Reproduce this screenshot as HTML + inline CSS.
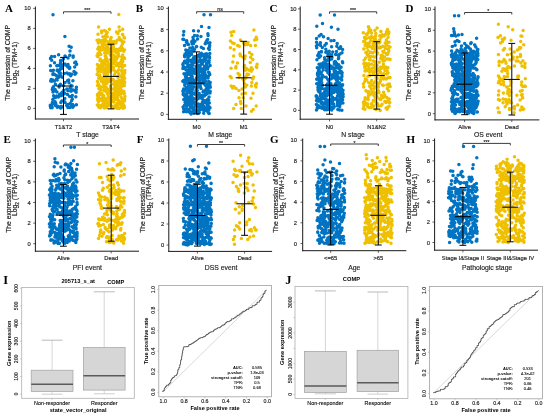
<!DOCTYPE html>
<html><head><meta charset="utf-8"><style>
html,body{margin:0;padding:0;background:#fff;overflow:hidden;}
svg{display:block;filter:blur(0.3px);}
text{font-family:"Liberation Sans",sans-serif;fill:#222;}
.tk{font-size:5.8px;fill:#222;stroke:#222;stroke-width:0.16px;}
.xt{font-size:6.8px;stroke:#222;stroke-width:0.15px;}
.yt{font-size:6.75px;stroke:#222;stroke-width:0.18px;}
.sig{font-size:5.2px;stroke:#222;stroke-width:0.15px;}
.rt{font-size:5.1px;fill:#222;stroke:#222;stroke-width:0.15px;}
.rx{font-size:5.3px;fill:#222;stroke:#222;stroke-width:0.15px;}
.bl{font-size:5.4px;fill:#111;stroke:#111;stroke-width:0.12px;}
.bt{font-size:5.7px;font-weight:bold;fill:#000;}
.bx{font-size:5.65px;font-weight:bold;fill:#000;}
.lg{font-size:4.0px;fill:#111;stroke:#111;stroke-width:0.1px;}
.lgb{font-size:4.0px;font-weight:bold;fill:#000;}
.L{font-family:"Liberation Serif",serif;font-weight:bold;font-size:11px;fill:#000;}
</style></head><body>
<svg width="550" height="417" viewBox="0 0 550 417">
<line x1="35.4" y1="6.5" x2="35.4" y2="119.5" stroke="#1a1a1a" stroke-width="1.0"/>
<line x1="34.9" y1="119" x2="139" y2="119" stroke="#1a1a1a" stroke-width="1.0"/>
<line x1="33.2" y1="108.4" x2="35.4" y2="108.4" stroke="#222" stroke-width="0.7"/>
<text x="30.8" y="110.4" class="tk" text-anchor="end">0</text>
<line x1="33.2" y1="88.4" x2="35.4" y2="88.4" stroke="#222" stroke-width="0.7"/>
<text x="30.8" y="90.4" class="tk" text-anchor="end">2</text>
<line x1="33.2" y1="68.4" x2="35.4" y2="68.4" stroke="#222" stroke-width="0.7"/>
<text x="30.8" y="70.4" class="tk" text-anchor="end">4</text>
<line x1="33.2" y1="48.4" x2="35.4" y2="48.4" stroke="#222" stroke-width="0.7"/>
<text x="30.8" y="50.4" class="tk" text-anchor="end">6</text>
<line x1="33.2" y1="28.4" x2="35.4" y2="28.4" stroke="#222" stroke-width="0.7"/>
<text x="30.8" y="30.4" class="tk" text-anchor="end">8</text>
<line x1="33.2" y1="8.4" x2="35.4" y2="8.4" stroke="#222" stroke-width="0.7"/>
<text x="30.8" y="10.4" class="tk" text-anchor="end">10</text>
<line x1="63.5" y1="119" x2="63.5" y2="121.2" stroke="#222" stroke-width="0.7"/>
<text x="63.5" y="128.5" class="tk" text-anchor="middle">T1&amp;T2</text>
<path d="M66.5 65.6h0M50.4 65.7h0M55.1 89.4h0M73.2 90.0h0M52.1 107.2h0M55.4 84.2h0M67.0 72.9h0M52.7 88.0h0M54.1 90.3h0M54.9 96.6h0M53.6 95.8h0M76.6 64.3h0M70.7 75.8h0M56.8 95.9h0M63.2 64.8h0M55.7 103.2h0M59.7 73.4h0M74.7 67.1h0M51.7 106.3h0M55.4 105.6h0M57.2 70.0h0M75.8 96.7h0M71.2 85.5h0M52.9 74.5h0M74.0 71.5h0M60.3 73.0h0M58.9 72.3h0M51.9 104.7h0M60.0 69.6h0M76.4 87.2h0M60.5 108.1h0M60.2 76.0h0M60.5 95.7h0M51.2 79.6h0M59.7 65.0h0M53.4 86.7h0M52.3 89.4h0M57.3 107.3h0M60.8 67.0h0M69.4 68.6h0M55.5 97.4h0M72.3 98.9h0M56.2 105.6h0M61.8 101.0h0M63.8 94.1h0M71.7 100.4h0M60.6 108.1h0M71.2 89.4h0M68.7 79.9h0M60.9 75.8h0M66.9 89.0h0M52.7 80.0h0M61.7 93.0h0M52.8 99.6h0M54.2 97.5h0M67.6 105.1h0M68.3 74.1h0M60.8 102.6h0M76.3 89.5h0M70.1 87.9h0M50.7 70.6h0M53.0 92.0h0M56.9 91.9h0M64.5 99.3h0M59.7 94.3h0M65.0 82.4h0M64.2 73.5h0M75.0 74.2h0M67.8 67.1h0M72.1 85.9h0M58.4 106.4h0M65.1 102.4h0M76.0 73.1h0M69.6 73.8h0M55.1 101.7h0M63.8 90.3h0M53.4 70.3h0M60.3 75.4h0M67.9 90.7h0M57.1 70.5h0M68.0 64.5h0M58.9 77.2h0M67.5 94.5h0M62.8 66.1h0M64.9 63.9h0M76.1 92.2h0M71.0 91.3h0M63.5 85.7h0M61.4 106.4h0M72.3 95.6h0M52.7 88.5h0M69.8 67.7h0M68.6 107.2h0M71.5 96.6h0M50.7 81.1h0M57.2 80.0h0M71.6 74.2h0M50.4 106.6h0M59.1 86.9h0M64.8 98.4h0M55.7 91.0h0M51.7 81.2h0M56.4 75.4h0M61.5 95.5h0M58.4 97.1h0M72.6 104.5h0M53.0 73.6h0M54.4 80.9h0M50.7 107.7h0M69.0 82.7h0M57.9 65.6h0M59.2 85.4h0M59.5 76.1h0M52.4 102.4h0M52.1 107.7h0M60.4 84.2h0M62.8 65.3h0M59.7 72.6h0M53.0 70.4h0M67.9 107.4h0M62.2 92.2h0M73.7 106.0h0M69.7 96.5h0M55.0 104.0h0M56.5 79.1h0M62.1 106.9h0M58.0 77.6h0M75.3 91.0h0M61.0 108.1h0M54.8 89.7h0M61.7 68.6h0M69.9 107.4h0M66.7 105.6h0M71.1 104.5h0M64.7 93.2h0M75.4 91.0h0M60.5 69.1h0M76.4 104.7h0M67.7 80.4h0M70.3 103.3h0M55.8 104.3h0M72.9 80.7h0M50.3 105.2h0M69.6 67.2h0M62.3 77.2h0M72.8 107.3h0M68.0 104.5h0M56.8 65.8h0M54.5 74.4h0M60.4 107.7h0M51.7 60.3h0M51.6 56.5h0M54.6 56.4h0M73.1 57.3h0M50.5 58.3h0M65.0 56.1h0M69.1 46.2h0M68.0 57.9h0M70.0 50.9h0M74.7 62.8h0M63.4 58.9h0M65.3 56.3h0M69.8 55.3h0M60.6 60.6h0M50.6 58.7h0M71.2 47.2h0M58.6 54.8h0M73.2 55.9h0M60.5 62.7h0M54.5 62.8h0M61.3 61.0h0M75.7 61.9h0M53.0 14.7h0M64.9 36.4h0" stroke="#0073C2" stroke-width="3.5" stroke-linecap="round" fill="none"/>
<line x1="111" y1="119" x2="111" y2="121.2" stroke="#222" stroke-width="0.7"/>
<text x="111" y="128.5" class="tk" text-anchor="middle">T3&amp;T4</text>
<path d="M107.7 89.9h0M107.0 102.7h0M117.9 63.2h0M107.9 105.0h0M106.4 67.6h0M112.5 99.1h0M102.2 66.9h0M100.4 69.1h0M120.5 66.0h0M108.3 96.8h0M123.0 76.7h0M106.7 60.3h0M107.2 51.1h0M124.7 65.4h0M104.9 101.9h0M97.9 53.6h0M97.1 55.7h0M119.9 83.2h0M101.0 71.6h0M101.3 81.2h0M104.1 70.3h0M118.2 77.5h0M106.3 87.4h0M97.6 95.0h0M99.1 106.0h0M113.6 80.1h0M97.7 56.6h0M103.6 48.0h0M100.7 60.9h0M102.9 96.2h0M117.0 97.2h0M123.0 101.4h0M103.9 105.1h0M108.3 80.5h0M113.9 69.9h0M100.8 50.3h0M105.4 72.8h0M117.9 77.0h0M108.6 94.3h0M106.7 74.0h0M112.8 107.2h0M110.1 59.8h0M121.3 107.2h0M115.9 105.1h0M110.0 104.8h0M108.5 80.8h0M101.1 105.4h0M116.9 85.7h0M104.3 108.0h0M97.5 95.4h0M101.0 89.7h0M114.8 90.7h0M109.0 48.8h0M106.8 107.6h0M114.5 60.6h0M98.6 96.9h0M102.7 66.9h0M100.8 54.6h0M98.3 105.1h0M106.1 70.3h0M115.2 92.6h0M123.9 84.5h0M124.5 58.5h0M97.1 74.5h0M120.5 83.2h0M123.7 70.9h0M106.0 105.7h0M118.9 73.7h0M111.6 96.5h0M104.2 90.5h0M116.9 108.2h0M119.2 66.8h0M109.8 92.4h0M105.8 57.7h0M108.3 48.4h0M120.4 93.2h0M110.4 86.1h0M109.5 103.0h0M117.4 71.9h0M116.3 65.4h0M124.3 93.4h0M115.7 84.2h0M119.6 48.8h0M120.5 62.6h0M116.2 91.8h0M114.9 82.2h0M98.1 68.0h0M106.2 98.9h0M98.3 66.4h0M108.9 51.7h0M118.4 53.7h0M111.9 96.3h0M115.3 57.0h0M114.4 107.5h0M101.9 63.3h0M123.9 91.6h0M107.4 93.7h0M107.7 62.2h0M102.9 105.6h0M98.8 78.2h0M112.2 93.3h0M120.9 86.4h0M110.0 79.0h0M100.3 58.9h0M122.0 90.8h0M103.7 87.0h0M113.4 62.9h0M100.5 107.7h0M111.0 49.1h0M105.2 98.9h0M115.2 71.4h0M97.9 48.7h0M98.8 93.2h0M97.4 81.4h0M119.0 104.3h0M100.1 86.2h0M124.7 99.1h0M102.5 105.9h0M101.9 93.3h0M106.7 82.1h0M120.7 50.6h0M107.5 68.4h0M105.7 50.1h0M97.6 98.6h0M105.2 98.5h0M107.5 89.4h0M105.3 80.1h0M115.3 82.4h0M111.4 62.9h0M98.9 107.2h0M114.3 97.1h0M121.1 97.2h0M97.3 104.9h0M118.1 85.8h0M118.3 94.9h0M115.6 107.1h0M97.9 56.5h0M105.2 55.9h0M100.7 106.3h0M109.8 81.2h0M105.4 53.0h0M102.0 49.8h0M124.5 81.8h0M121.6 64.4h0M104.3 77.9h0M113.2 89.1h0M98.5 101.8h0M119.6 93.7h0M118.6 100.9h0M102.6 65.8h0M116.4 84.1h0M108.3 71.0h0M112.1 51.4h0M122.3 67.5h0M106.2 89.2h0M113.6 63.7h0M99.0 69.2h0M114.2 49.3h0M124.3 100.3h0M99.7 51.5h0M100.9 87.1h0M123.9 93.3h0M99.5 106.5h0M103.3 60.7h0M97.9 55.9h0M97.5 94.6h0M124.4 85.6h0M120.3 88.2h0M114.1 63.1h0M118.1 54.4h0M121.4 60.0h0M114.1 106.2h0M102.9 100.4h0M103.0 99.5h0M122.9 85.8h0M103.8 100.3h0M111.8 60.0h0M121.6 80.2h0M107.6 65.5h0M118.2 89.1h0M115.0 95.9h0M118.5 70.1h0M108.2 66.1h0M98.2 53.8h0M99.5 92.6h0M116.0 52.8h0M101.5 94.6h0M122.4 48.5h0M119.4 76.4h0M98.7 47.1h0M110.3 69.4h0M124.5 107.6h0M102.2 104.8h0M114.0 97.8h0M112.7 95.8h0M114.1 49.5h0M107.9 93.2h0M106.8 83.6h0M104.3 88.3h0M114.6 89.4h0M101.8 70.0h0M113.8 102.0h0M102.9 46.6h0M124.9 96.2h0M105.1 107.1h0M112.8 106.9h0M110.7 105.8h0M116.8 81.2h0M118.3 92.4h0M100.1 79.0h0M109.9 80.3h0M116.4 51.1h0M121.9 102.6h0M114.7 57.0h0M121.6 92.3h0M111.2 105.7h0M105.9 56.3h0M103.2 61.8h0M122.0 57.3h0M108.0 81.0h0M124.1 105.8h0M117.9 108.1h0M104.6 100.9h0M113.6 55.6h0M123.2 58.9h0M117.2 106.1h0M122.0 64.5h0M115.3 91.0h0M122.9 85.4h0M99.4 76.3h0M122.7 56.5h0M117.2 103.2h0M115.5 87.1h0M107.1 105.6h0M113.5 59.3h0M123.1 108.3h0M104.7 52.9h0M123.7 51.2h0M117.7 76.2h0M99.2 87.6h0M121.4 70.5h0M107.3 69.8h0M121.5 76.5h0M104.4 73.0h0M116.3 105.3h0M124.5 49.9h0M109.6 105.6h0M114.4 74.8h0M117.0 58.1h0M105.4 90.5h0M112.9 48.1h0M102.6 81.4h0M108.8 91.2h0M110.7 71.0h0M109.3 98.8h0M103.6 80.1h0M105.1 101.4h0M114.8 95.3h0M117.4 81.7h0M115.7 99.4h0M122.1 78.7h0M113.8 106.5h0M104.0 85.6h0M105.9 65.5h0M122.0 98.4h0M117.4 52.8h0M112.4 48.4h0M109.9 88.9h0M105.7 58.8h0M104.1 69.0h0M124.6 78.3h0M111.2 65.3h0M115.9 72.0h0M112.2 95.8h0M106.6 58.5h0M118.7 94.8h0M110.5 104.6h0M116.7 56.7h0M121.6 104.9h0M114.9 92.4h0M97.5 85.6h0M105.3 49.7h0M104.0 104.3h0M98.2 66.5h0M117.4 99.4h0M120.1 102.4h0M115.1 61.8h0M100.0 60.6h0M112.8 79.3h0M109.1 101.6h0M122.8 61.8h0M122.1 101.5h0M118.1 53.1h0M122.2 71.9h0M103.7 95.7h0M98.3 67.3h0M122.1 90.9h0M109.3 66.9h0M123.6 77.6h0M105.0 71.5h0M111.5 80.6h0M113.4 67.6h0M103.0 101.5h0M101.9 70.0h0M118.6 50.5h0M104.5 75.3h0M108.1 102.1h0M103.9 105.3h0M118.8 49.7h0M106.5 77.7h0M124.7 70.6h0M105.8 83.9h0M122.6 55.0h0M121.9 83.7h0M119.7 89.2h0M99.9 47.6h0M98.0 71.7h0M104.8 76.6h0M108.5 66.4h0M98.9 88.7h0M99.7 47.2h0M117.4 97.7h0M113.2 68.1h0M108.0 52.9h0M106.7 66.2h0M103.5 98.4h0M118.9 56.0h0M124.7 73.1h0M111.0 89.2h0M119.0 92.3h0M121.2 81.8h0M100.3 94.3h0M109.7 69.4h0M98.3 84.1h0M109.6 69.4h0M116.8 105.0h0M114.7 96.9h0M118.3 64.7h0M119.1 100.7h0M110.5 55.3h0M117.2 92.9h0M113.0 57.0h0M123.2 82.6h0M122.7 74.5h0M113.5 46.8h0M113.8 95.4h0M103.3 83.6h0M109.6 99.3h0M106.4 47.2h0M113.4 96.1h0M121.1 90.0h0M119.7 108.0h0M108.0 101.7h0M124.6 82.4h0M99.1 76.8h0M115.7 95.3h0M121.0 93.9h0M115.6 89.8h0M119.6 75.7h0M103.4 82.3h0M100.2 50.1h0M109.4 98.8h0M101.5 100.2h0M113.3 51.1h0M119.1 80.4h0M101.2 65.0h0M119.0 65.4h0M108.9 71.8h0M99.9 65.8h0M110.6 98.3h0M97.4 68.9h0M124.4 58.1h0M99.9 67.1h0M111.4 101.5h0M99.0 86.5h0M120.6 102.8h0M99.7 75.1h0M104.5 69.0h0M102.0 80.1h0M116.3 59.6h0M103.9 49.8h0M119.6 49.9h0M121.3 86.6h0M107.9 50.8h0M113.3 83.9h0M112.7 99.0h0M120.7 80.4h0M124.4 100.9h0M98.0 100.2h0M101.6 77.8h0M97.8 100.2h0M97.4 64.6h0M108.5 103.0h0M97.8 49.0h0M121.3 46.6h0M110.6 88.0h0M104.0 73.2h0M104.0 85.9h0M110.9 67.8h0M109.3 64.5h0M100.5 98.6h0M112.1 58.4h0M107.3 74.4h0M106.1 91.4h0M114.9 86.2h0M105.0 63.4h0M101.4 99.1h0M111.7 53.9h0M123.0 104.1h0M122.6 79.5h0M104.8 82.7h0M123.9 75.4h0M116.6 49.3h0M105.8 60.7h0M119.0 108.4h0M105.8 76.3h0M110.0 100.2h0M108.3 81.7h0M107.7 76.7h0M102.0 63.6h0M104.5 30.4h0M106.1 45.1h0M105.7 35.6h0M122.5 42.3h0M115.0 42.0h0M102.6 40.6h0M121.0 40.5h0M122.5 34.5h0M116.0 42.9h0M105.9 40.5h0M110.1 41.0h0M124.5 37.9h0M110.6 39.0h0M107.8 45.9h0M101.7 32.8h0M119.2 37.6h0M102.3 44.7h0M121.2 40.0h0M105.7 31.3h0M116.4 31.9h0M113.9 41.4h0M103.9 43.6h0M122.7 29.2h0M105.6 35.7h0M124.0 37.2h0M111.0 41.3h0M107.2 32.5h0M122.3 44.2h0M106.8 33.5h0M98.0 34.2h0M119.5 39.6h0M123.8 41.9h0M102.9 36.7h0M122.1 41.6h0M105.1 41.2h0M109.0 43.2h0M122.7 34.6h0M110.8 44.6h0M98.9 40.0h0M101.2 40.8h0M119.1 27.0h0M112.8 45.2h0M105.0 38.9h0M101.9 43.8h0M109.4 29.3h0M107.3 45.0h0M119.6 30.8h0M111.2 37.5h0M103.4 44.2h0M100.6 41.2h0M98.2 43.1h0M97.1 40.3h0M117.9 33.6h0M117.1 40.3h0M98.6 27.1h0M101.5 30.9h0M113.0 43.9h0M111.9 44.9h0M107.3 36.8h0M108.1 42.0h0M118.8 14.4h0" stroke="#EFC000" stroke-width="3.5" stroke-linecap="round" fill="none"/>
<g stroke="#000" stroke-width="1.0"><line x1="63.5" y1="57.4" x2="63.5" y2="114.4"/><line x1="60.1" y1="57.4" x2="66.9" y2="57.4"/><line x1="60.1" y1="114.4" x2="66.9" y2="114.4"/><line x1="55.5" y1="86.0" x2="71.5" y2="86.0"/></g>
<g stroke="#000" stroke-width="1.0"><line x1="111" y1="44.2" x2="111" y2="108.9"/><line x1="107.6" y1="44.2" x2="114.4" y2="44.2"/><line x1="107.6" y1="108.9" x2="114.4" y2="108.9"/><line x1="103.0" y1="76.4" x2="119.0" y2="76.4"/></g>
<path d="M63.5 13.8V11.8H111V13.8" fill="none" stroke="#333" stroke-width="0.95"/>
<text x="87.2" y="12.3" class="sig" text-anchor="middle">***</text>
<text x="87.5" y="137.2" class="xt" text-anchor="middle">T stage</text>
<text transform="translate(10.3,62.9) rotate(-90) scale(1,0.95)" class="yt" text-anchor="middle">The expression of COMP</text>
<text transform="translate(17.2,62.9) rotate(-90)" class="yt" text-anchor="middle">Log<tspan font-size="4.7" dy="1.7">2</tspan><tspan dy="-1.7"> (TPM+1)</tspan></text>
<text x="5.0" y="11.7" class="L">A</text>
<line x1="168.4" y1="6.5" x2="168.4" y2="119.8" stroke="#1a1a1a" stroke-width="1.0"/>
<line x1="167.9" y1="119.3" x2="272" y2="119.3" stroke="#1a1a1a" stroke-width="1.0"/>
<line x1="166.2" y1="114.4" x2="168.4" y2="114.4" stroke="#222" stroke-width="0.7"/>
<text x="163.8" y="116.4" class="tk" text-anchor="end">0</text>
<line x1="166.2" y1="93.2" x2="168.4" y2="93.2" stroke="#222" stroke-width="0.7"/>
<text x="163.8" y="95.2" class="tk" text-anchor="end">2</text>
<line x1="166.2" y1="72.0" x2="168.4" y2="72.0" stroke="#222" stroke-width="0.7"/>
<text x="163.8" y="74.0" class="tk" text-anchor="end">4</text>
<line x1="166.2" y1="50.8" x2="168.4" y2="50.8" stroke="#222" stroke-width="0.7"/>
<text x="163.8" y="52.8" class="tk" text-anchor="end">6</text>
<line x1="166.2" y1="29.6" x2="168.4" y2="29.6" stroke="#222" stroke-width="0.7"/>
<text x="163.8" y="31.6" class="tk" text-anchor="end">8</text>
<line x1="166.2" y1="8.4" x2="168.4" y2="8.4" stroke="#222" stroke-width="0.7"/>
<text x="163.8" y="10.4" class="tk" text-anchor="end">10</text>
<line x1="196.6" y1="119.3" x2="196.6" y2="121.5" stroke="#222" stroke-width="0.7"/>
<text x="196.6" y="128.5" class="tk" text-anchor="middle">M0</text>
<path d="M188.0 99.8h0M189.9 78.6h0M196.5 87.8h0M201.0 104.6h0M203.6 107.4h0M202.8 82.6h0M192.2 78.3h0M199.3 55.6h0M209.6 74.5h0M202.3 96.4h0M188.8 54.6h0M186.7 95.1h0M202.3 78.4h0M206.6 66.9h0M193.6 70.9h0M186.0 108.8h0M197.6 57.1h0M197.4 75.7h0M205.7 68.8h0M185.8 101.0h0M209.6 74.0h0M202.4 64.0h0M185.1 67.8h0M205.9 108.1h0M196.0 90.2h0M202.6 105.4h0M196.8 96.4h0M186.5 97.5h0M207.6 89.8h0M187.2 102.3h0M192.6 68.5h0M197.1 79.5h0M193.1 101.7h0M198.4 104.0h0M208.5 76.1h0M186.8 54.7h0M199.2 65.8h0M187.9 91.7h0M202.3 102.5h0M200.4 61.6h0M191.3 96.2h0M191.3 62.2h0M191.9 70.9h0M199.1 80.9h0M188.0 111.2h0M209.9 91.8h0M195.3 73.2h0M184.1 82.2h0M203.6 102.2h0M209.0 106.7h0M208.6 81.4h0M189.8 90.2h0M188.9 82.0h0M201.0 68.8h0M209.4 91.0h0M184.1 90.2h0M210.0 93.0h0M183.7 108.7h0M209.6 57.8h0M192.5 68.7h0M194.0 62.6h0M201.1 64.4h0M196.8 98.8h0M197.8 93.3h0M187.2 79.3h0M192.2 76.4h0M198.9 108.0h0M205.6 90.4h0M186.8 109.0h0M193.7 82.9h0M191.9 73.5h0M192.3 102.3h0M183.8 99.4h0M199.5 97.2h0M192.5 100.6h0M184.7 56.8h0M187.0 88.9h0M191.5 60.0h0M195.7 105.6h0M204.6 60.2h0M202.7 78.2h0M184.1 67.2h0M182.8 81.3h0M207.4 110.4h0M187.5 62.3h0M203.9 73.3h0M198.5 98.1h0M203.9 95.4h0M188.3 67.3h0M197.4 66.2h0M201.5 104.6h0M203.1 60.7h0M205.7 55.1h0M207.2 93.5h0M208.5 72.2h0M186.4 73.6h0M190.0 72.4h0M190.6 79.8h0M195.5 94.5h0M206.4 76.6h0M209.9 84.9h0M192.0 81.4h0M205.5 75.1h0M207.4 90.4h0M196.4 70.2h0M185.1 61.1h0M201.2 55.2h0M199.2 107.3h0M192.3 89.7h0M207.4 90.9h0M197.5 104.5h0M184.0 73.8h0M208.8 113.6h0M206.9 87.7h0M185.0 79.8h0M194.1 59.9h0M189.6 81.0h0M191.8 76.5h0M193.6 60.1h0M186.4 76.0h0M206.6 102.1h0M201.5 70.6h0M190.0 86.7h0M192.5 73.3h0M188.8 74.3h0M190.1 71.5h0M193.2 93.7h0M188.0 57.7h0M190.1 105.3h0M193.9 62.0h0M189.6 99.9h0M195.8 102.2h0M207.8 84.6h0M189.4 101.5h0M208.7 85.9h0M188.8 65.1h0M190.7 83.7h0M195.5 79.9h0M205.2 83.6h0M206.1 58.5h0M203.4 73.6h0M186.7 106.0h0M188.6 65.5h0M188.7 82.4h0M193.3 83.1h0M182.9 68.5h0M193.2 101.3h0M195.8 84.1h0M187.5 66.6h0M195.0 69.3h0M203.3 100.3h0M201.3 53.3h0M198.9 71.9h0M207.3 100.2h0M184.0 89.9h0M200.1 86.0h0M196.3 56.5h0M209.3 56.4h0M195.2 56.7h0M204.2 69.7h0M194.1 86.9h0M191.1 75.8h0M199.2 105.0h0M185.5 76.7h0M196.9 63.0h0M207.7 99.3h0M209.8 74.4h0M187.8 99.4h0M184.9 98.5h0M196.4 78.0h0M200.8 71.3h0M206.0 94.5h0M197.0 99.5h0M194.7 69.5h0M186.9 93.2h0M184.5 55.5h0M206.4 110.0h0M204.2 83.9h0M204.5 75.4h0M193.4 110.1h0M202.3 55.5h0M191.9 85.5h0M205.1 78.3h0M186.9 81.5h0M200.9 83.3h0M192.2 103.4h0M190.4 106.8h0M186.0 70.1h0M197.8 107.1h0M191.2 65.6h0M184.9 110.9h0M196.0 66.3h0M185.5 102.6h0M197.4 66.0h0M195.2 81.8h0M202.0 54.3h0M184.8 109.2h0M200.9 77.8h0M203.3 75.8h0M191.9 96.3h0M196.9 98.1h0M201.1 98.0h0M184.5 105.3h0M204.9 70.5h0M205.8 93.4h0M194.4 59.4h0M187.5 104.8h0M198.1 79.1h0M207.9 78.0h0M201.2 64.3h0M198.7 74.7h0M205.1 110.4h0M192.7 107.2h0M210.2 91.6h0M191.6 86.7h0M186.4 111.6h0M203.5 61.6h0M201.0 88.5h0M196.8 68.8h0M184.1 90.8h0M185.6 90.1h0M208.0 77.9h0M195.4 59.0h0M196.1 111.2h0M191.7 111.9h0M192.7 65.0h0M202.0 79.5h0M182.9 64.5h0M199.7 95.8h0M194.2 112.0h0M183.2 65.9h0M201.7 106.3h0M203.3 70.7h0M189.4 112.1h0M187.8 71.0h0M185.1 102.5h0M198.6 98.2h0M197.8 111.4h0M204.2 58.5h0M189.2 97.1h0M183.1 107.1h0M185.1 98.2h0M208.4 61.2h0M191.9 91.3h0M191.5 54.2h0M208.7 82.1h0M210.0 107.7h0M199.2 110.7h0M194.0 107.4h0M184.3 68.1h0M197.2 90.4h0M191.9 89.8h0M192.0 66.0h0M183.4 94.4h0M196.7 100.0h0M194.1 56.8h0M189.1 110.2h0M195.9 60.8h0M192.6 92.9h0M187.1 61.3h0M210.0 82.6h0M192.4 103.3h0M202.4 98.9h0M203.0 91.9h0M197.3 75.7h0M184.2 110.3h0M185.5 103.1h0M189.5 84.9h0M200.1 65.9h0M207.9 112.0h0M210.2 82.6h0M187.8 59.2h0M199.3 112.6h0M198.3 110.4h0M209.1 62.5h0M191.6 68.5h0M204.7 66.2h0M199.6 54.6h0M196.5 61.9h0M187.3 78.3h0M192.2 88.0h0M203.5 102.4h0M186.5 74.6h0M188.8 101.1h0M197.4 64.9h0M183.7 63.1h0M192.1 77.2h0M189.0 60.3h0M203.4 72.2h0M190.3 68.6h0M197.9 55.5h0M199.6 81.8h0M208.7 100.3h0M205.8 109.1h0M185.7 96.8h0M206.2 88.8h0M190.1 112.8h0M209.8 53.4h0M190.7 88.1h0M201.1 106.9h0M184.7 74.2h0M190.1 86.0h0M206.8 64.5h0M184.4 94.0h0M202.5 104.5h0M186.4 111.8h0M188.9 104.3h0M186.9 103.3h0M192.4 88.5h0M205.4 81.1h0M195.8 83.8h0M202.1 109.4h0M202.3 73.4h0M187.7 70.5h0M209.2 113.5h0M209.0 97.0h0M191.4 84.5h0M195.7 109.9h0M195.2 104.5h0M209.0 72.4h0M209.1 60.5h0M203.7 113.3h0M194.6 73.3h0M186.6 83.1h0M205.7 77.7h0M206.6 64.1h0M208.2 108.1h0M183.2 63.5h0M206.1 103.1h0M199.7 61.5h0M186.0 111.3h0M197.5 87.6h0M194.8 103.2h0M205.3 60.4h0M193.6 57.7h0M206.3 69.0h0M207.7 56.3h0M194.1 98.7h0M200.7 83.2h0M199.4 95.6h0M192.2 83.5h0M190.5 61.1h0M204.9 54.2h0M183.3 94.8h0M201.9 63.0h0M203.8 74.5h0M200.2 85.0h0M194.1 109.8h0M200.1 57.6h0M198.8 105.9h0M197.5 83.9h0M209.0 81.7h0M197.5 72.6h0M202.9 77.3h0M187.9 109.8h0M202.4 74.8h0M207.9 88.9h0M186.3 77.5h0M186.3 98.0h0M188.3 73.7h0M203.4 106.3h0M207.8 105.3h0M202.3 96.2h0M192.3 98.0h0M199.4 75.3h0M201.4 70.0h0M199.0 78.5h0M192.2 94.3h0M190.2 93.3h0M206.9 107.2h0M190.9 90.7h0M203.0 110.0h0M208.1 67.2h0M199.5 86.0h0M203.1 108.4h0M202.3 60.5h0M184.4 95.4h0M210.1 65.6h0M189.3 111.0h0M201.1 55.6h0M188.0 66.5h0M188.8 60.8h0M204.3 57.0h0M190.4 99.7h0M191.1 114.0h0M186.9 88.9h0M190.0 65.5h0M199.9 60.2h0M191.5 104.9h0M192.8 98.8h0M189.4 102.7h0M198.4 67.6h0M185.8 89.8h0M185.8 78.9h0M196.1 57.7h0M186.2 87.4h0M193.7 69.8h0M208.8 110.0h0M202.5 104.1h0M203.5 91.0h0M205.4 81.8h0M192.5 93.4h0M192.2 108.2h0M196.1 70.9h0M189.5 68.2h0M193.5 83.0h0M198.7 74.6h0M193.3 83.5h0M194.7 93.1h0M188.5 85.2h0M207.8 110.7h0M194.0 112.0h0M210.3 87.2h0M200.3 79.3h0M193.9 112.9h0M203.1 69.0h0M206.6 63.6h0M186.1 79.4h0M201.9 54.0h0M194.2 107.1h0M207.0 101.7h0M206.5 53.7h0M184.7 85.2h0M205.3 85.3h0M191.7 96.4h0M202.1 95.5h0M183.6 89.0h0M197.5 60.7h0M192.8 79.8h0M195.8 58.5h0M182.9 90.9h0M194.8 57.3h0M204.3 95.9h0M188.3 88.4h0M204.8 73.1h0M183.6 111.8h0M193.6 62.2h0M190.3 54.3h0M195.2 70.0h0M209.3 86.9h0M183.8 80.3h0M204.4 67.4h0M205.6 100.8h0M190.2 108.0h0M197.5 113.4h0M203.6 106.0h0M191.1 95.9h0M199.2 93.6h0M209.3 102.9h0M207.3 90.3h0M183.2 93.8h0M186.6 63.2h0M207.7 68.7h0M203.4 101.0h0M199.9 79.7h0M184.9 61.8h0M204.0 79.6h0M207.2 104.9h0M184.6 61.3h0M203.2 75.7h0M202.1 74.6h0M204.7 110.6h0M193.7 108.0h0M198.3 69.1h0M205.5 58.7h0M200.3 86.8h0M189.5 55.8h0M185.1 54.1h0M199.0 109.2h0M199.3 84.4h0M207.6 39.6h0M186.6 52.3h0M191.7 41.9h0M186.9 43.0h0M192.7 47.4h0M188.2 51.2h0M195.0 41.3h0M188.7 52.3h0M189.9 48.0h0M188.1 52.6h0M208.5 48.5h0M194.4 49.4h0M207.3 42.8h0M193.3 41.3h0M186.7 40.7h0M196.4 46.8h0M193.2 39.6h0M186.4 41.9h0M188.4 44.5h0M197.6 38.9h0M198.4 30.9h0M184.5 45.5h0M183.8 31.6h0M209.9 42.7h0M201.3 47.2h0M209.7 45.6h0M206.0 42.0h0M192.3 48.3h0M207.9 33.8h0M209.3 47.2h0M187.1 42.7h0M200.9 36.4h0M193.0 37.4h0M191.9 41.6h0M206.8 40.6h0M183.7 39.5h0M193.6 43.5h0M196.6 46.4h0M183.4 34.9h0M193.8 50.7h0M191.2 51.2h0M203.4 48.4h0M209.3 49.6h0M193.6 30.7h0M188.0 44.6h0M208.1 35.4h0M192.1 44.1h0M185.8 49.9h0M197.3 35.8h0M194.5 35.5h0M192.5 51.2h0M182.9 39.2h0M205.2 43.8h0M188.0 50.4h0M192.2 48.0h0M204.0 14.8h0M210.5 14.8h0M201.5 26.4h0M209.0 27.5h0" stroke="#0073C2" stroke-width="3.5" stroke-linecap="round" fill="none"/>
<line x1="243.7" y1="119.3" x2="243.7" y2="121.5" stroke="#222" stroke-width="0.7"/>
<text x="243.7" y="128.5" class="tk" text-anchor="middle">M1</text>
<path d="M230.2 76.5h0M233.7 108.4h0M233.9 86.5h0M240.5 101.5h0M247.0 74.0h0M252.8 79.0h0M233.6 55.9h0M245.3 87.0h0M237.6 45.5h0M252.5 69.2h0M247.5 44.4h0M236.0 104.5h0M231.3 77.8h0M243.5 43.3h0M239.0 97.8h0M256.3 66.8h0M251.2 71.2h0M250.6 45.4h0M257.1 64.3h0M251.0 98.3h0M250.6 57.2h0M243.8 80.3h0M240.7 101.7h0M232.6 43.0h0M231.2 86.0h0M251.5 111.3h0M248.5 74.5h0M242.1 93.9h0M236.0 88.6h0M251.8 82.5h0M234.1 43.5h0M255.5 85.1h0M251.9 54.5h0M246.7 85.3h0M239.3 46.3h0M241.3 108.6h0M231.1 68.3h0M253.6 76.9h0M250.3 62.5h0M232.8 62.1h0M244.5 66.6h0M239.1 77.4h0M244.4 67.4h0M246.4 68.6h0M243.1 97.7h0M251.4 86.0h0M246.0 106.1h0M245.7 78.2h0M248.8 70.1h0M250.8 70.7h0M240.9 103.5h0M238.9 90.5h0M246.2 76.5h0M252.8 59.5h0M253.0 93.3h0M256.5 83.6h0M240.0 54.1h0M256.8 67.6h0M245.6 93.2h0M230.4 47.7h0M238.1 73.5h0M242.1 89.1h0M245.4 70.2h0M251.3 67.7h0M256.2 106.0h0M248.0 42.4h0M232.6 88.1h0M243.1 57.2h0M240.4 55.8h0M245.2 44.7h0M244.7 42.9h0M239.5 74.7h0M230.4 41.1h0M249.5 52.5h0M244.7 58.7h0M255.4 45.4h0M255.7 86.2h0M253.2 109.5h0M237.4 63.0h0M236.0 66.4h0M235.7 67.8h0M244.4 83.6h0M256.0 86.9h0M242.7 78.9h0M234.0 49.5h0M245.3 56.1h0M244.5 65.4h0M235.9 68.0h0M240.4 40.1h0M231.7 35.6h0M253.9 30.0h0M256.2 37.2h0M231.0 32.3h0M254.6 40.1h0M233.7 31.6h0M256.7 39.3h0" stroke="#EFC000" stroke-width="3.5" stroke-linecap="round" fill="none"/>
<g stroke="#000" stroke-width="1.0"><line x1="196.6" y1="51.9" x2="196.6" y2="113.9"/><line x1="193.2" y1="51.9" x2="200.0" y2="51.9"/><line x1="193.2" y1="113.9" x2="200.0" y2="113.9"/><line x1="188.6" y1="83.1" x2="204.6" y2="83.1"/></g>
<g stroke="#000" stroke-width="1.0"><line x1="243.7" y1="41.3" x2="243.7" y2="114.1"/><line x1="240.3" y1="41.3" x2="247.1" y2="41.3"/><line x1="240.3" y1="114.1" x2="247.1" y2="114.1"/><line x1="235.7" y1="77.8" x2="251.7" y2="77.8"/></g>
<path d="M196.6 13.7V11.7H243.7V13.7" fill="none" stroke="#333" stroke-width="0.95"/>
<text x="220.1" y="10.8" class="sig" text-anchor="middle">ns</text>
<text x="220.3" y="137.2" class="xt" text-anchor="middle">M stage</text>
<text transform="translate(144.3,62.9) rotate(-90) scale(1,0.95)" class="yt" text-anchor="middle">The expression of COMP</text>
<text transform="translate(151.0,62.9) rotate(-90)" class="yt" text-anchor="middle">Log<tspan font-size="4.7" dy="1.7">2</tspan><tspan dy="-1.7"> (TPM+1)</tspan></text>
<text x="135.8" y="11.8" class="L">B</text>
<line x1="300.2" y1="6.5" x2="300.2" y2="119.7" stroke="#1a1a1a" stroke-width="1.0"/>
<line x1="299.7" y1="119.2" x2="404.7" y2="119.2" stroke="#1a1a1a" stroke-width="1.0"/>
<line x1="298.0" y1="110.4" x2="300.2" y2="110.4" stroke="#222" stroke-width="0.7"/>
<text x="296.6" y="112.4" class="tk" text-anchor="end">0</text>
<line x1="298.0" y1="90.1" x2="300.2" y2="90.1" stroke="#222" stroke-width="0.7"/>
<text x="296.6" y="92.1" class="tk" text-anchor="end">2</text>
<line x1="298.0" y1="69.8" x2="300.2" y2="69.8" stroke="#222" stroke-width="0.7"/>
<text x="296.6" y="71.8" class="tk" text-anchor="end">4</text>
<line x1="298.0" y1="49.5" x2="300.2" y2="49.5" stroke="#222" stroke-width="0.7"/>
<text x="296.6" y="51.5" class="tk" text-anchor="end">6</text>
<line x1="298.0" y1="29.2" x2="300.2" y2="29.2" stroke="#222" stroke-width="0.7"/>
<text x="296.6" y="31.2" class="tk" text-anchor="end">8</text>
<line x1="298.0" y1="8.9" x2="300.2" y2="8.9" stroke="#222" stroke-width="0.7"/>
<text x="296.6" y="10.9" class="tk" text-anchor="end">10</text>
<line x1="329.5" y1="119.2" x2="329.5" y2="121.4" stroke="#222" stroke-width="0.7"/>
<text x="329.5" y="128.5" class="tk" text-anchor="middle">N0</text>
<path d="M318.1 73.5h0M341.3 97.3h0M323.7 92.9h0M333.3 108.3h0M338.7 64.8h0M342.6 99.7h0M320.2 65.9h0M329.4 71.8h0M335.4 87.9h0M325.1 107.6h0M341.7 98.0h0M320.5 107.5h0M334.1 70.7h0M329.4 69.5h0M328.0 109.6h0M341.9 110.3h0M336.2 90.5h0M320.4 95.6h0M337.5 95.9h0M338.6 78.5h0M329.9 73.9h0M316.4 95.8h0M339.3 87.2h0M337.5 99.6h0M317.3 67.8h0M339.5 71.8h0M332.3 67.0h0M327.6 67.6h0M340.4 99.4h0M321.6 79.6h0M341.6 89.2h0M328.9 81.1h0M331.3 78.8h0M326.2 93.2h0M330.0 101.5h0M337.3 74.0h0M318.0 77.8h0M327.6 67.4h0M335.9 77.3h0M338.4 103.4h0M319.7 71.7h0M318.7 85.1h0M326.4 66.6h0M324.6 92.0h0M338.7 91.2h0M326.3 67.7h0M323.7 95.4h0M321.4 101.8h0M321.2 103.2h0M334.1 107.0h0M327.8 72.5h0M319.1 86.3h0M328.8 87.9h0M317.8 105.5h0M316.9 97.7h0M328.5 107.8h0M327.6 101.5h0M332.6 68.0h0M321.4 88.5h0M341.7 79.9h0M342.6 95.0h0M342.4 92.2h0M323.4 76.7h0M320.2 78.8h0M331.7 110.1h0M330.3 103.6h0M341.3 101.1h0M332.5 100.5h0M323.2 69.9h0M331.1 93.7h0M327.7 79.3h0M332.0 67.4h0M334.5 78.1h0M321.3 72.8h0M326.6 70.6h0M332.9 77.3h0M316.1 96.0h0M317.4 108.1h0M318.5 86.2h0M340.7 72.3h0M338.1 85.0h0M320.4 83.1h0M332.7 86.4h0M329.3 87.9h0M321.1 99.1h0M319.3 79.7h0M327.1 65.2h0M340.0 66.8h0M334.1 90.1h0M317.4 108.3h0M330.3 99.1h0M338.8 102.9h0M335.1 99.0h0M328.6 101.6h0M321.5 87.5h0M324.9 89.7h0M320.2 88.1h0M320.0 101.2h0M333.8 98.9h0M340.1 95.6h0M326.2 67.7h0M341.0 102.4h0M317.3 107.6h0M318.4 91.3h0M322.9 65.6h0M334.7 99.3h0M319.5 68.3h0M341.2 71.4h0M317.5 74.7h0M338.0 81.8h0M327.6 105.6h0M327.9 72.8h0M320.1 92.7h0M325.4 93.3h0M335.1 91.3h0M338.2 93.9h0M317.7 97.7h0M318.7 107.6h0M343.0 90.2h0M332.8 103.3h0M333.7 104.3h0M339.0 67.0h0M331.6 91.7h0M337.8 109.5h0M335.2 67.9h0M335.6 98.5h0M320.0 99.0h0M322.9 67.0h0M334.7 86.5h0M327.7 91.9h0M321.2 77.8h0M329.9 95.2h0M341.0 92.8h0M329.5 74.4h0M337.3 90.2h0M342.9 93.6h0M317.9 87.5h0M336.4 82.7h0M333.9 73.7h0M326.6 95.9h0M332.3 87.6h0M340.3 104.1h0M340.6 88.8h0M319.0 70.2h0M338.3 86.9h0M323.0 94.7h0M341.1 92.2h0M339.4 109.8h0M322.0 66.8h0M329.5 101.4h0M325.8 101.7h0M332.2 108.8h0M332.9 103.2h0M320.2 72.1h0M342.1 72.7h0M333.4 107.8h0M322.9 67.8h0M326.4 109.7h0M331.8 100.1h0M329.1 83.7h0M330.6 65.9h0M339.6 84.3h0M341.8 97.5h0M326.3 65.1h0M319.0 106.6h0M319.1 79.9h0M320.3 80.5h0M325.3 96.5h0M326.7 107.3h0M332.0 102.1h0M327.1 69.3h0M333.6 99.3h0M323.0 64.9h0M320.2 73.9h0M316.7 83.8h0M339.7 106.4h0M330.9 86.6h0M318.3 76.7h0M332.2 100.7h0M339.7 96.7h0M321.0 107.1h0M342.6 84.8h0M332.6 97.2h0M328.4 103.4h0M325.9 66.4h0M318.2 90.3h0M327.1 94.5h0M337.8 93.0h0M341.9 76.5h0M324.7 89.0h0M339.5 68.8h0M316.4 104.6h0M320.6 80.3h0M336.2 66.5h0M339.9 101.8h0M322.6 85.2h0M341.3 85.0h0M326.2 99.5h0M330.9 83.8h0M329.0 101.7h0M329.2 94.3h0M318.0 89.7h0M341.2 78.1h0M316.5 110.1h0M323.1 106.3h0M326.7 88.2h0M316.5 100.6h0M328.8 72.1h0M342.9 102.9h0M322.6 103.6h0M335.8 71.5h0M334.6 91.6h0M333.8 92.5h0M329.2 105.6h0M336.4 79.8h0M325.5 66.7h0M327.4 84.1h0M343.1 96.8h0M327.8 100.4h0M332.9 103.5h0M338.0 76.7h0M331.3 94.8h0M327.4 86.1h0M322.7 102.7h0M331.2 75.0h0M335.7 85.6h0M328.2 105.7h0M326.0 65.2h0M332.6 89.1h0M318.5 70.7h0M318.5 101.3h0M321.0 80.5h0M342.0 86.0h0M335.9 85.9h0M328.0 106.4h0M341.1 67.3h0M322.0 108.3h0M316.7 79.2h0M337.5 103.3h0M329.2 100.3h0M331.2 75.5h0M322.2 88.6h0M343.1 94.2h0M330.0 89.6h0M341.5 92.1h0M332.5 106.9h0M324.9 103.7h0M330.2 91.9h0M320.1 91.3h0M335.3 84.0h0M319.3 77.9h0M339.4 91.1h0M321.3 102.5h0M326.3 94.1h0M337.3 68.0h0M337.4 101.4h0M335.5 86.8h0M319.7 92.2h0M324.4 109.4h0M320.1 89.3h0M326.0 90.0h0M341.8 73.2h0M318.9 106.0h0M332.1 88.2h0M337.2 105.7h0M327.5 103.5h0M342.0 91.0h0M329.2 79.5h0M340.4 88.0h0M330.1 90.8h0M339.4 109.9h0M338.1 89.6h0M317.3 105.1h0M328.3 79.7h0M331.8 75.5h0M342.6 94.9h0M317.5 73.2h0M333.9 73.8h0M331.2 107.1h0M320.1 84.9h0M320.7 98.6h0M324.2 64.8h0M318.2 88.1h0M322.6 75.5h0M331.5 99.7h0M319.1 85.4h0M338.7 72.9h0M317.8 99.6h0M331.2 109.0h0M331.0 68.4h0M324.2 98.8h0M327.1 108.7h0M331.6 109.9h0M321.7 82.5h0M336.5 72.3h0M339.5 83.0h0M317.2 101.0h0M329.4 91.6h0M326.8 104.6h0M336.7 89.6h0M335.2 89.5h0M332.8 75.8h0M324.9 109.7h0M339.1 67.3h0M329.2 89.3h0M338.1 88.1h0M335.4 86.9h0M324.0 107.2h0M332.6 102.3h0M326.6 67.3h0M327.4 65.2h0M319.1 72.2h0M341.9 74.7h0M318.2 71.9h0M328.4 69.7h0M322.8 76.9h0M322.5 96.7h0M319.1 82.0h0M327.5 84.5h0M338.3 92.2h0M318.6 83.1h0M326.1 77.2h0M321.7 95.1h0M321.0 99.4h0M328.0 91.9h0M334.8 75.4h0M339.8 103.0h0M339.5 71.8h0M336.8 85.8h0M326.4 85.3h0M336.5 51.5h0M328.8 58.1h0M321.4 51.6h0M340.6 46.8h0M338.7 57.8h0M331.4 55.4h0M335.2 62.3h0M329.7 59.8h0M325.9 64.0h0M324.8 63.7h0M336.5 63.2h0M334.0 40.6h0M322.3 47.6h0M332.7 52.1h0M324.9 45.2h0M335.3 61.4h0M324.6 57.8h0M325.8 52.2h0M320.4 42.7h0M329.2 53.3h0M335.6 62.4h0M320.9 63.9h0M336.0 64.1h0M331.6 46.7h0M331.0 40.7h0M334.3 62.0h0M317.5 44.7h0M334.3 64.0h0M326.3 43.6h0M339.6 48.6h0M331.7 55.0h0M338.0 54.9h0M327.6 60.6h0M328.1 38.6h0M324.7 59.5h0M316.9 59.7h0M336.8 46.2h0M328.7 52.3h0M318.7 53.9h0M319.1 52.5h0M325.3 62.7h0M323.3 62.7h0M321.1 34.4h0M338.9 48.6h0M329.2 51.3h0M342.0 52.7h0M326.9 60.3h0M342.4 61.8h0M327.2 52.1h0M325.5 64.5h0M328.5 64.2h0M331.2 58.0h0M321.4 52.1h0M316.5 38.6h0M338.7 55.5h0M338.4 58.8h0M323.5 36.8h0M331.6 59.0h0M339.0 54.8h0M327.9 54.9h0M328.7 63.9h0M342.7 62.8h0M321.4 64.6h0M320.4 45.3h0M332.0 57.2h0M325.8 49.3h0M317.7 55.6h0M335.6 54.4h0M316.5 42.3h0M330.3 56.8h0M335.0 62.9h0M342.6 49.6h0M319.0 64.2h0M340.0 53.9h0M319.1 57.4h0M320.6 56.1h0M316.7 47.7h0M337.2 43.5h0M319.2 36.1h0M316.4 45.9h0M320.2 15.0h0M334.5 15.0h0M316.8 26.2h0M322.5 23.4h0M331.4 27.2h0M338.0 29.2h0" stroke="#0073C2" stroke-width="3.5" stroke-linecap="round" fill="none"/>
<line x1="376.7" y1="119.2" x2="376.7" y2="121.4" stroke="#222" stroke-width="0.7"/>
<text x="376.7" y="128.5" class="tk" text-anchor="middle">N1&amp;N2</text>
<path d="M372.3 85.3h0M379.4 83.0h0M371.2 64.2h0M369.6 86.3h0M384.8 101.4h0M372.2 48.3h0M374.2 38.9h0M372.8 53.0h0M381.4 95.2h0M376.4 78.8h0M386.5 101.5h0M384.0 74.1h0M365.4 70.9h0M375.8 47.1h0M384.7 78.3h0M363.7 87.1h0M374.0 45.6h0M387.2 71.0h0M378.1 90.2h0M389.4 84.0h0M367.0 46.0h0M384.5 47.1h0M386.7 45.0h0M376.6 92.9h0M376.7 78.5h0M370.2 59.8h0M365.5 39.2h0M367.8 92.0h0M365.5 103.7h0M388.6 77.4h0M368.4 70.7h0M383.4 64.3h0M380.6 67.1h0M376.9 77.5h0M368.1 44.0h0M376.1 71.4h0M371.5 64.3h0M370.0 71.9h0M368.8 68.5h0M366.7 53.3h0M373.5 37.8h0M363.8 106.1h0M383.8 51.3h0M377.8 74.5h0M374.0 71.6h0M370.8 40.5h0M371.8 91.2h0M373.8 95.2h0M384.5 56.9h0M381.5 95.8h0M380.3 81.2h0M371.0 88.4h0M377.0 54.0h0M369.5 59.7h0M387.6 101.3h0M379.8 39.7h0M386.3 40.1h0M381.8 68.3h0M364.4 37.6h0M367.9 46.7h0M390.0 77.6h0M372.4 46.7h0M388.0 53.1h0M370.6 107.3h0M367.5 69.9h0M382.4 67.3h0M378.2 84.5h0M368.5 95.6h0M368.8 44.9h0M385.8 78.2h0M367.5 104.3h0M373.6 44.3h0M368.1 54.6h0M382.2 55.2h0M375.3 57.1h0M376.4 82.3h0M369.0 107.4h0M385.3 43.3h0M363.5 101.9h0M386.4 54.0h0M385.2 42.9h0M365.0 71.1h0M374.9 51.3h0M374.1 92.0h0M374.5 65.0h0M364.6 41.8h0M373.1 71.9h0M386.3 78.9h0M374.7 93.6h0M381.8 97.7h0M378.8 92.4h0M374.8 61.5h0M379.7 98.9h0M364.8 81.4h0M368.8 63.8h0M387.9 67.8h0M375.5 101.8h0M370.2 83.0h0M390.2 86.6h0M370.0 46.4h0M371.0 56.6h0M368.1 99.5h0M371.9 68.5h0M378.8 91.7h0M366.5 103.6h0M383.5 78.9h0M382.5 85.0h0M365.1 38.3h0M376.0 75.5h0M366.2 65.4h0M385.8 67.0h0M370.1 94.8h0M389.2 99.0h0M381.1 76.7h0M373.9 83.0h0M377.3 84.7h0M377.7 48.1h0M379.3 71.3h0M371.6 104.0h0M367.8 98.3h0M389.6 86.2h0M368.4 91.4h0M376.3 41.3h0M377.4 68.3h0M370.6 52.6h0M371.8 103.5h0M368.3 43.2h0M383.9 97.0h0M381.9 75.3h0M377.0 65.6h0M382.4 57.1h0M371.9 107.3h0M379.3 62.3h0M380.8 58.4h0M388.7 46.4h0M368.1 97.8h0M388.2 84.3h0M379.5 70.3h0M373.0 44.1h0M389.1 106.3h0M377.0 97.1h0M375.6 81.5h0M365.9 90.7h0M363.9 49.1h0M366.0 63.6h0M378.4 105.9h0M383.0 61.1h0M367.9 76.3h0M384.3 60.7h0M364.9 102.5h0M386.0 102.5h0M380.4 79.9h0M380.6 72.2h0M388.7 59.0h0M367.8 104.0h0M379.6 48.1h0M377.6 103.7h0M380.8 99.4h0M372.9 48.2h0M388.4 49.2h0M368.7 44.4h0M363.9 75.4h0M387.4 54.6h0M384.7 95.0h0M363.8 63.8h0M375.3 49.1h0M366.8 79.9h0M371.8 93.1h0M386.7 74.0h0M365.1 45.2h0M366.2 69.3h0M366.4 38.6h0M365.1 99.3h0M369.8 57.0h0M369.4 37.8h0M365.9 52.5h0M364.1 60.3h0M376.4 51.3h0M382.9 51.6h0M384.0 52.2h0M368.5 93.4h0M379.1 43.1h0M366.9 104.8h0M363.8 48.9h0M389.6 102.8h0M372.9 74.8h0M386.9 97.5h0M390.0 46.9h0M389.0 42.3h0M373.4 67.7h0M363.3 84.0h0M373.9 106.0h0M388.7 77.4h0M363.2 108.4h0M374.6 82.5h0M383.8 73.7h0M375.5 69.6h0M389.8 102.6h0M368.6 66.3h0M382.8 46.2h0M380.1 47.5h0M367.5 69.5h0M364.3 41.6h0M388.0 107.2h0M365.6 58.0h0M363.5 103.2h0M389.2 102.6h0M389.0 99.4h0M373.3 60.9h0M369.6 75.6h0M371.4 52.2h0M383.3 85.6h0M374.4 61.4h0M381.5 59.1h0M365.3 79.1h0M377.4 52.8h0M371.0 37.5h0M375.9 43.6h0M367.3 54.7h0M376.5 103.7h0M381.0 105.8h0M364.9 109.3h0M376.0 78.0h0M374.3 88.5h0M373.3 41.6h0M377.4 85.0h0M375.5 39.5h0M374.7 66.9h0M367.6 98.9h0M383.5 67.1h0M388.8 51.0h0M383.6 92.3h0M382.8 97.4h0M386.9 59.0h0M364.6 66.9h0M385.6 48.5h0M377.1 78.3h0M380.3 46.9h0M375.8 93.7h0M379.9 42.3h0M366.0 65.5h0M373.7 56.8h0M378.4 87.0h0M386.9 85.0h0M375.9 109.4h0M375.6 69.3h0M369.4 72.1h0M363.6 41.5h0M388.6 90.8h0M390.1 59.6h0M375.3 65.8h0M386.5 42.9h0M367.8 106.7h0M384.9 70.5h0M375.8 41.5h0M365.0 68.0h0M365.1 97.8h0M373.8 73.8h0M381.1 55.6h0M382.5 58.9h0M374.8 96.5h0M366.3 43.4h0M375.1 99.4h0M380.8 47.6h0M368.7 82.8h0M374.8 86.4h0M371.6 80.6h0M368.7 56.6h0M370.9 70.5h0M387.1 109.2h0M383.3 51.8h0M367.2 47.4h0M368.5 55.9h0M376.7 93.9h0M376.9 46.1h0M385.0 70.0h0M373.3 100.4h0M383.2 76.6h0M388.0 73.0h0M369.3 43.1h0M388.8 85.1h0M375.6 62.9h0M377.6 70.2h0M382.1 104.3h0M386.4 108.0h0M386.1 108.1h0M368.1 50.8h0M375.2 46.4h0M380.2 110.4h0M387.3 88.4h0M382.3 34.7h0M367.0 35.0h0M370.7 30.3h0M385.4 34.6h0M387.5 29.4h0M380.8 31.6h0M381.0 31.6h0M374.9 30.5h0M375.5 36.1h0M368.9 27.7h0M368.2 32.8h0M375.0 37.2h0M384.1 35.9h0M377.1 28.1h0M388.9 32.1h0M388.1 37.3h0M371.4 36.6h0M368.4 26.8h0M379.7 35.8h0M388.6 33.9h0M371.6 32.9h0M381.2 37.2h0M366.4 34.2h0M363.3 32.7h0M370.7 37.1h0M375.8 33.5h0M369.0 30.4h0M386.4 31.8h0" stroke="#EFC000" stroke-width="3.5" stroke-linecap="round" fill="none"/>
<g stroke="#000" stroke-width="1.0"><line x1="329.5" y1="56.6" x2="329.5" y2="114.2"/><line x1="326.1" y1="56.6" x2="332.9" y2="56.6"/><line x1="326.1" y1="114.2" x2="332.9" y2="114.2"/><line x1="321.5" y1="85.2" x2="337.5" y2="85.2"/></g>
<g stroke="#000" stroke-width="1.0"><line x1="376.7" y1="41.7" x2="376.7" y2="109.1"/><line x1="373.3" y1="41.7" x2="380.1" y2="41.7"/><line x1="373.3" y1="109.1" x2="380.1" y2="109.1"/><line x1="368.7" y1="75.5" x2="384.7" y2="75.5"/></g>
<path d="M329.5 13.8V11.8H376.7V13.8" fill="none" stroke="#333" stroke-width="0.95"/>
<text x="353.1" y="12.3" class="sig" text-anchor="middle">***</text>
<text x="353" y="137.2" class="xt" text-anchor="middle">N stage</text>
<text transform="translate(276.3,62.9) rotate(-90) scale(1,0.95)" class="yt" text-anchor="middle">The expression of COMP</text>
<text transform="translate(283.2,62.9) rotate(-90)" class="yt" text-anchor="middle">Log<tspan font-size="4.7" dy="1.7">2</tspan><tspan dy="-1.7"> (TPM+1)</tspan></text>
<text x="269.5" y="11.7" class="L">C</text>
<line x1="435" y1="6.5" x2="435" y2="120.4" stroke="#1a1a1a" stroke-width="1.0"/>
<line x1="434.5" y1="119.9" x2="539.4" y2="119.9" stroke="#1a1a1a" stroke-width="1.0"/>
<line x1="432.8" y1="113.7" x2="435" y2="113.7" stroke="#222" stroke-width="0.7"/>
<text x="430.9" y="115.7" class="tk" text-anchor="end">0</text>
<line x1="432.8" y1="92.8" x2="435" y2="92.8" stroke="#222" stroke-width="0.7"/>
<text x="430.9" y="94.8" class="tk" text-anchor="end">2</text>
<line x1="432.8" y1="72.0" x2="435" y2="72.0" stroke="#222" stroke-width="0.7"/>
<text x="430.9" y="74.0" class="tk" text-anchor="end">4</text>
<line x1="432.8" y1="51.1" x2="435" y2="51.1" stroke="#222" stroke-width="0.7"/>
<text x="430.9" y="53.1" class="tk" text-anchor="end">6</text>
<line x1="432.8" y1="30.3" x2="435" y2="30.3" stroke="#222" stroke-width="0.7"/>
<text x="430.9" y="32.3" class="tk" text-anchor="end">8</text>
<line x1="432.8" y1="9.4" x2="435" y2="9.4" stroke="#222" stroke-width="0.7"/>
<text x="430.9" y="11.4" class="tk" text-anchor="end">10</text>
<line x1="464.6" y1="119.9" x2="464.6" y2="122.1" stroke="#222" stroke-width="0.7"/>
<text x="464.6" y="128.5" class="tk" text-anchor="middle">Alive</text>
<path d="M453.0 59.4h0M473.1 100.1h0M468.5 60.9h0M456.4 64.0h0M467.0 85.4h0M475.3 96.9h0M463.3 86.8h0M456.4 80.2h0M460.8 65.7h0M452.3 53.9h0M473.1 104.0h0M464.2 111.0h0M472.9 82.6h0M466.2 58.2h0M477.4 82.6h0M473.6 98.7h0M467.5 102.1h0M457.3 101.6h0M473.7 113.5h0M460.2 104.4h0M468.2 60.4h0M468.1 62.5h0M470.6 68.8h0M462.3 81.0h0M471.3 61.0h0M474.4 77.5h0M471.1 90.3h0M454.7 104.6h0M454.6 90.7h0M463.1 78.0h0M456.1 75.1h0M460.7 104.6h0M456.6 99.2h0M476.0 107.8h0M472.3 100.7h0M478.0 95.5h0M467.9 73.6h0M476.2 62.6h0M471.4 59.0h0M467.5 104.9h0M461.5 57.6h0M453.5 102.8h0M467.8 74.9h0M462.5 90.9h0M458.0 99.2h0M476.0 60.7h0M460.2 80.6h0M462.1 68.2h0M473.6 91.2h0M466.8 106.3h0M455.8 73.9h0M468.0 82.0h0M469.7 92.9h0M457.1 72.3h0M457.0 82.3h0M470.4 58.7h0M468.3 57.2h0M473.5 68.1h0M451.8 105.4h0M454.2 64.4h0M453.7 75.7h0M472.5 82.7h0M471.6 100.0h0M477.0 91.7h0M476.4 92.8h0M470.8 79.0h0M466.6 97.3h0M476.0 86.8h0M468.4 82.5h0M472.1 59.5h0M458.6 78.6h0M459.5 60.6h0M476.2 57.9h0M473.7 87.7h0M472.6 56.2h0M468.9 64.9h0M469.9 70.3h0M462.0 54.9h0M471.9 89.6h0M464.5 110.6h0M476.9 58.3h0M475.4 106.9h0M474.1 84.7h0M464.0 73.8h0M454.8 55.5h0M458.9 75.7h0M454.2 102.6h0M472.9 88.8h0M451.5 64.4h0M469.1 106.9h0M473.2 65.2h0M455.9 82.0h0M455.8 110.9h0M473.4 112.5h0M475.2 98.7h0M461.0 79.4h0M473.5 78.0h0M458.6 72.7h0M453.6 94.9h0M455.6 81.1h0M472.7 73.9h0M467.4 102.1h0M465.1 111.3h0M476.0 55.6h0M463.4 110.6h0M477.5 94.5h0M453.7 75.8h0M463.5 94.7h0M466.6 65.5h0M457.3 67.3h0M460.6 101.8h0M466.2 75.1h0M469.8 107.9h0M464.3 75.5h0M458.0 65.1h0M466.5 70.0h0M454.7 59.7h0M476.9 112.1h0M455.6 100.7h0M457.4 56.5h0M452.7 98.4h0M463.5 73.9h0M473.3 90.7h0M473.1 73.6h0M460.9 90.9h0M469.7 81.1h0M462.9 98.7h0M461.6 86.0h0M470.9 68.2h0M473.5 95.6h0M471.7 67.5h0M464.3 105.6h0M459.0 108.8h0M464.8 97.4h0M451.4 63.3h0M463.7 102.4h0M458.9 60.2h0M462.0 70.7h0M461.2 69.7h0M460.7 63.7h0M475.9 91.3h0M465.0 82.3h0M454.9 102.2h0M463.3 81.3h0M465.7 59.5h0M468.4 102.6h0M473.7 74.7h0M477.9 53.4h0M469.0 62.7h0M466.7 89.8h0M462.4 102.5h0M468.3 67.9h0M452.9 86.8h0M466.9 88.3h0M469.2 62.6h0M451.1 90.3h0M457.7 70.0h0M451.7 63.5h0M462.8 90.3h0M465.0 67.7h0M466.0 104.7h0M475.4 63.8h0M471.2 106.2h0M461.8 53.9h0M467.6 103.0h0M457.6 86.7h0M470.3 102.2h0M462.7 100.6h0M461.6 109.6h0M456.8 111.7h0M469.2 94.8h0M456.2 86.2h0M469.3 53.5h0M455.8 58.3h0M462.7 89.9h0M453.5 106.1h0M468.0 83.3h0M465.1 103.0h0M477.9 84.4h0M452.5 73.2h0M474.4 81.8h0M465.7 82.5h0M460.8 81.3h0M466.6 65.9h0M454.3 102.8h0M473.2 106.9h0M451.7 56.7h0M456.3 55.0h0M476.2 83.1h0M473.9 58.4h0M465.5 94.6h0M469.1 109.7h0M465.3 85.6h0M468.6 67.7h0M466.5 67.7h0M467.5 62.3h0M460.9 69.2h0M469.1 103.6h0M452.8 103.7h0M459.4 77.6h0M455.2 57.0h0M461.5 82.6h0M477.3 55.3h0M473.7 65.1h0M467.3 65.2h0M466.1 74.8h0M465.8 87.5h0M452.2 71.8h0M463.5 93.4h0M474.9 101.1h0M455.8 67.2h0M459.0 69.7h0M468.7 55.7h0M466.0 89.0h0M463.7 82.0h0M455.0 108.6h0M454.7 79.9h0M472.9 111.3h0M474.5 75.5h0M464.4 109.2h0M454.2 100.3h0M464.9 60.5h0M469.4 86.2h0M470.1 70.9h0M459.9 64.9h0M466.6 76.2h0M457.2 72.7h0M461.6 89.1h0M465.2 89.7h0M476.4 90.7h0M456.1 68.0h0M454.8 93.3h0M473.1 90.7h0M460.4 66.2h0M456.0 70.6h0M462.4 90.1h0M462.9 78.6h0M452.6 73.5h0M465.9 78.4h0M475.8 102.6h0M463.4 96.0h0M471.3 53.3h0M455.2 86.6h0M457.3 78.5h0M466.7 59.9h0M475.1 97.6h0M460.6 83.8h0M453.1 109.3h0M471.8 94.8h0M467.9 101.7h0M462.4 63.6h0M460.8 85.0h0M477.1 86.0h0M459.2 80.7h0M465.3 94.5h0M470.2 67.1h0M470.1 69.4h0M455.7 86.8h0M464.5 72.4h0M455.6 74.8h0M472.7 75.2h0M475.8 84.9h0M462.2 75.5h0M477.9 55.5h0M463.2 95.2h0M474.3 109.6h0M469.8 67.0h0M458.3 101.9h0M468.6 94.3h0M460.8 84.2h0M460.7 74.0h0M462.8 67.3h0M452.5 92.9h0M473.3 87.2h0M455.5 105.1h0M456.4 75.0h0M462.8 105.3h0M469.5 96.6h0M477.3 112.1h0M463.7 103.7h0M472.4 112.8h0M452.4 103.8h0M472.6 65.8h0M467.4 76.4h0M467.0 88.4h0M471.0 104.0h0M477.8 59.6h0M468.2 110.7h0M478.0 77.4h0M457.0 100.8h0M465.1 60.1h0M457.6 94.6h0M465.7 63.4h0M477.4 53.8h0M465.2 73.4h0M465.4 79.2h0M458.4 76.9h0M454.9 82.7h0M462.2 69.9h0M451.5 88.2h0M459.7 68.0h0M472.7 109.0h0M462.9 102.6h0M469.5 86.6h0M474.4 96.9h0M458.4 72.5h0M468.8 89.3h0M452.3 66.1h0M467.2 105.1h0M467.1 72.2h0M476.4 97.5h0M461.0 97.5h0M470.2 105.9h0M451.8 106.6h0M471.1 111.6h0M459.5 62.5h0M464.3 97.1h0M474.1 76.9h0M462.5 75.7h0M452.4 61.5h0M467.9 67.9h0M454.1 68.9h0M476.9 69.8h0M470.5 90.3h0M470.3 55.4h0M454.9 101.3h0M472.2 96.8h0M467.8 61.7h0M471.1 96.3h0M454.0 109.0h0M474.3 97.3h0M452.8 109.9h0M457.3 100.7h0M468.1 57.9h0M465.8 79.1h0M451.6 109.2h0M470.1 60.2h0M456.8 65.0h0M459.7 77.7h0M476.1 61.2h0M467.4 82.1h0M458.3 67.7h0M470.8 97.7h0M470.5 85.3h0M451.4 55.1h0M452.4 111.2h0M473.6 104.4h0M466.6 79.3h0M469.2 78.6h0M465.0 94.1h0M475.3 68.2h0M455.5 65.1h0M451.4 101.7h0M454.1 84.0h0M454.0 76.2h0M465.0 105.5h0M461.8 69.3h0M470.5 97.4h0M464.6 80.9h0M459.9 79.9h0M470.8 64.2h0M461.7 107.6h0M476.1 103.2h0M460.1 58.6h0M468.2 93.6h0M462.4 85.3h0M457.9 109.5h0M457.5 84.2h0M459.7 68.6h0M454.1 105.2h0M467.0 54.3h0M472.2 106.7h0M465.3 94.9h0M467.1 112.9h0M464.4 103.9h0M469.5 73.7h0M473.1 103.7h0M465.1 96.5h0M471.4 100.6h0M457.3 85.6h0M474.6 78.2h0M463.3 111.6h0M471.0 68.0h0M459.8 89.2h0M457.4 89.1h0M473.5 58.2h0M476.4 69.2h0M468.7 105.3h0M466.0 77.3h0M464.6 104.9h0M474.3 84.9h0M455.7 54.9h0M474.7 105.9h0M468.0 107.5h0M463.3 93.6h0M459.7 111.7h0M478.0 76.7h0M466.7 79.3h0M466.7 79.6h0M463.1 72.6h0M477.4 104.2h0M452.3 88.8h0M466.1 59.8h0M468.9 97.6h0M474.0 56.7h0M474.0 91.1h0M470.3 89.1h0M452.8 67.9h0M471.0 86.6h0M462.3 87.5h0M452.6 110.0h0M477.1 79.6h0M454.6 65.2h0M470.5 99.6h0M475.3 95.3h0M475.1 91.1h0M452.6 75.2h0M472.7 107.3h0M453.6 67.9h0M471.4 75.2h0M458.4 89.2h0M451.8 98.4h0M468.7 76.8h0M453.9 104.4h0M473.8 108.9h0M457.0 101.5h0M452.4 101.6h0M452.7 96.4h0M473.0 53.8h0M462.0 111.1h0M468.5 77.3h0M465.7 93.4h0M455.2 113.4h0M456.3 80.4h0M452.0 101.5h0M458.8 109.4h0M454.4 57.6h0M478.1 101.3h0M467.6 113.1h0M469.9 55.6h0M461.0 75.2h0M466.6 94.5h0M452.4 100.4h0M462.9 106.1h0M473.6 107.6h0M463.1 59.1h0M455.6 93.6h0M470.3 65.6h0M472.7 80.6h0M473.2 107.6h0M468.6 78.4h0M475.1 64.3h0M463.6 82.3h0M477.0 59.8h0M476.7 105.9h0M467.4 64.6h0M452.3 86.3h0M456.3 111.6h0M464.6 54.6h0M460.5 61.3h0M467.6 94.9h0M454.8 113.2h0M467.0 101.6h0M469.7 83.3h0M459.5 59.5h0M474.1 96.7h0M470.3 83.2h0M461.8 110.9h0M455.4 78.7h0M463.1 82.8h0M460.3 87.4h0M465.9 56.3h0M459.8 104.5h0M468.9 63.2h0M458.8 69.5h0M472.7 101.0h0M468.8 112.9h0M475.6 101.9h0M459.9 54.7h0M473.8 110.3h0M455.8 73.8h0M476.1 98.4h0M461.9 81.0h0M477.9 83.2h0M454.0 74.0h0M468.3 58.9h0M470.0 83.9h0M471.1 61.7h0M453.6 65.1h0M468.3 70.1h0M455.5 77.2h0M454.6 110.4h0M477.1 80.9h0M462.0 92.5h0M474.2 98.1h0M451.8 107.8h0M460.5 55.5h0M458.1 59.9h0M477.7 102.9h0M468.1 101.4h0M455.9 35.9h0M451.5 35.6h0M471.2 42.8h0M474.6 44.9h0M457.0 50.3h0M474.8 44.9h0M461.0 48.9h0M458.7 51.4h0M463.7 51.4h0M476.6 38.2h0M454.5 33.6h0M466.0 51.2h0M475.9 53.0h0M477.5 49.4h0M477.5 51.3h0M471.0 50.5h0M464.7 43.6h0M468.2 46.7h0M452.3 46.6h0M461.4 50.3h0M455.0 41.8h0M470.4 48.9h0M475.8 47.1h0M461.5 46.0h0M462.0 34.5h0M477.9 49.6h0M457.2 40.5h0M465.3 48.6h0M458.4 34.9h0M468.2 47.2h0M455.2 45.2h0M453.0 35.6h0M459.0 41.6h0M476.3 51.9h0M473.8 51.3h0M453.7 28.7h0M455.4 52.8h0M469.9 48.8h0M454.1 31.6h0M470.0 53.0h0M451.6 50.9h0M462.2 50.1h0M459.3 52.0h0M466.5 45.8h0M470.7 43.4h0M454.5 15.7h0M458.7 15.7h0" stroke="#0073C2" stroke-width="3.5" stroke-linecap="round" fill="none"/>
<line x1="511.8" y1="119.9" x2="511.8" y2="122.1" stroke="#222" stroke-width="0.7"/>
<text x="511.8" y="128.5" class="tk" text-anchor="middle">Dead</text>
<path d="M502.5 41.6h0M520.6 56.1h0M503.9 85.1h0M525.3 86.5h0M525.3 78.7h0M521.4 94.9h0M509.0 99.5h0M498.4 82.8h0M505.3 70.6h0M508.2 66.5h0M503.1 102.7h0M503.4 92.9h0M509.5 100.4h0M521.5 85.0h0M510.4 80.7h0M522.6 97.4h0M509.4 89.7h0M506.8 87.0h0M505.3 61.2h0M520.3 109.9h0M518.1 61.1h0M517.7 105.0h0M504.9 77.0h0M507.9 91.0h0M507.6 93.5h0M504.2 76.5h0M499.1 62.3h0M507.6 67.7h0M505.2 69.1h0M506.9 103.9h0M523.7 109.0h0M501.0 84.2h0M509.6 108.6h0M522.2 90.4h0M504.6 48.6h0M499.1 65.6h0M522.7 97.9h0M499.7 100.3h0M506.3 101.3h0M500.6 43.1h0M498.8 91.0h0M520.4 56.6h0M503.0 68.8h0M499.1 80.9h0M503.6 82.0h0M503.1 98.9h0M524.9 67.5h0M510.5 67.7h0M522.0 66.0h0M514.5 106.5h0M503.0 79.6h0M520.1 100.0h0M498.4 76.1h0M520.7 41.4h0M521.8 107.0h0M510.4 85.5h0M511.0 53.9h0M507.4 54.7h0M520.9 62.8h0M516.9 95.2h0M517.5 50.0h0M507.6 101.5h0M497.9 107.9h0M498.6 112.3h0M522.9 60.8h0M504.0 59.5h0M513.1 57.0h0M514.4 108.9h0M498.4 99.5h0M524.9 85.9h0M507.3 87.1h0M522.8 86.4h0M518.5 76.1h0M498.4 54.4h0M508.5 89.5h0M524.7 66.5h0M510.8 82.6h0M509.5 95.5h0M520.3 91.3h0M517.8 76.2h0M511.2 102.7h0M499.5 77.8h0M519.6 47.5h0M525.0 63.6h0M505.2 106.8h0M517.2 57.3h0M505.6 99.4h0M507.7 73.5h0M510.1 49.0h0M513.8 107.4h0M498.5 95.0h0M521.7 82.1h0M523.7 44.7h0M507.6 76.6h0M501.9 71.3h0M517.9 77.4h0M502.1 62.1h0M508.8 101.9h0M523.2 109.4h0M499.4 112.4h0M499.2 61.2h0M509.4 109.4h0M506.0 63.2h0M520.4 54.5h0M514.4 66.1h0M503.3 50.1h0M516.3 61.1h0M522.2 94.5h0M513.0 59.1h0M501.9 79.6h0M509.9 60.0h0M520.8 47.8h0M510.8 92.3h0M519.9 48.4h0M500.1 80.9h0M507.2 70.8h0M514.2 52.1h0M514.1 112.7h0M502.3 39.2h0M504.1 39.1h0M511.0 40.3h0M512.7 29.8h0M498.0 37.4h0M521.0 36.1h0M500.4 35.8h0M523.1 30.4h0M521.9 36.3h0M504.6 38.1h0M498.4 24.2h0M508.2 26.8h0" stroke="#EFC000" stroke-width="3.5" stroke-linecap="round" fill="none"/>
<g stroke="#000" stroke-width="1.0"><line x1="464.6" y1="52.9" x2="464.6" y2="114.7"/><line x1="461.2" y1="52.9" x2="468.0" y2="52.9"/><line x1="461.2" y1="114.7" x2="468.0" y2="114.7"/><line x1="456.6" y1="84.2" x2="472.6" y2="84.2"/></g>
<g stroke="#000" stroke-width="1.0"><line x1="511.8" y1="43.4" x2="511.8" y2="115.0"/><line x1="508.4" y1="43.4" x2="515.2" y2="43.4"/><line x1="508.4" y1="115.0" x2="515.2" y2="115.0"/><line x1="503.8" y1="79.4" x2="519.8" y2="79.4"/></g>
<path d="M464.6 14.5V12.5H511.8V14.5" fill="none" stroke="#333" stroke-width="0.95"/>
<text x="488.2" y="13.0" class="sig" text-anchor="middle">*</text>
<text x="488.2" y="137.2" class="xt" text-anchor="middle">OS event</text>
<text transform="translate(411.2,62.9) rotate(-90) scale(1,0.95)" class="yt" text-anchor="middle">The expression of COMP</text>
<text transform="translate(417.8,62.9) rotate(-90)" class="yt" text-anchor="middle">Log<tspan font-size="4.7" dy="1.7">2</tspan><tspan dy="-1.7"> (TPM+1)</tspan></text>
<text x="405.4" y="11.7" class="L">D</text>
<line x1="35.4" y1="138.5" x2="35.4" y2="251.7" stroke="#1a1a1a" stroke-width="1.0"/>
<line x1="34.9" y1="251.2" x2="139" y2="251.2" stroke="#1a1a1a" stroke-width="1.0"/>
<line x1="33.2" y1="243.7" x2="35.4" y2="243.7" stroke="#222" stroke-width="0.7"/>
<text x="30.8" y="245.7" class="tk" text-anchor="end">0</text>
<line x1="33.2" y1="223.1" x2="35.4" y2="223.1" stroke="#222" stroke-width="0.7"/>
<text x="30.8" y="225.1" class="tk" text-anchor="end">2</text>
<line x1="33.2" y1="202.5" x2="35.4" y2="202.5" stroke="#222" stroke-width="0.7"/>
<text x="30.8" y="204.5" class="tk" text-anchor="end">4</text>
<line x1="33.2" y1="181.9" x2="35.4" y2="181.9" stroke="#222" stroke-width="0.7"/>
<text x="30.8" y="183.9" class="tk" text-anchor="end">6</text>
<line x1="33.2" y1="161.3" x2="35.4" y2="161.3" stroke="#222" stroke-width="0.7"/>
<text x="30.8" y="163.3" class="tk" text-anchor="end">8</text>
<line x1="33.2" y1="140.7" x2="35.4" y2="140.7" stroke="#222" stroke-width="0.7"/>
<text x="30.8" y="142.7" class="tk" text-anchor="end">10</text>
<line x1="63.4" y1="251.2" x2="63.4" y2="253.4" stroke="#222" stroke-width="0.7"/>
<text x="63.4" y="260.0" class="tk" text-anchor="middle">Alive</text>
<path d="M51.0 226.3h0M58.6 196.4h0M50.8 188.1h0M57.3 187.9h0M72.5 217.1h0M66.5 239.7h0M65.1 193.2h0M63.3 196.0h0M50.2 200.8h0M53.7 198.7h0M75.5 196.1h0M51.0 183.8h0M70.6 188.2h0M57.0 210.0h0M57.2 238.2h0M67.1 206.9h0M70.7 195.5h0M63.1 239.9h0M56.7 185.2h0M58.4 230.0h0M49.7 205.8h0M60.5 238.9h0M70.0 197.3h0M77.0 232.2h0M61.4 207.6h0M75.7 233.4h0M57.8 202.8h0M66.2 230.4h0M64.0 239.2h0M51.5 232.8h0M69.8 210.9h0M55.4 207.7h0M50.0 224.1h0M58.0 242.8h0M73.3 240.4h0M67.1 188.7h0M73.4 195.6h0M75.9 208.9h0M64.7 205.8h0M76.6 209.9h0M69.8 222.9h0M66.6 219.0h0M73.8 214.2h0M73.2 201.6h0M67.2 196.2h0M62.3 223.6h0M75.5 192.3h0M56.4 235.9h0M70.2 192.7h0M51.4 230.4h0M66.5 212.3h0M60.4 231.8h0M73.7 208.4h0M58.2 212.3h0M64.1 219.9h0M63.5 209.1h0M51.2 200.2h0M56.3 198.2h0M72.6 184.3h0M57.1 185.8h0M61.3 214.3h0M59.8 206.7h0M61.8 221.3h0M71.5 204.3h0M52.8 197.3h0M56.2 235.6h0M57.8 194.5h0M64.1 241.6h0M52.5 209.5h0M67.2 224.5h0M52.6 201.8h0M74.0 221.2h0M66.9 188.9h0M61.3 235.4h0M72.7 221.1h0M49.6 236.1h0M59.3 204.0h0M52.1 186.2h0M69.1 190.7h0M50.7 219.4h0M77.0 211.0h0M55.6 189.9h0M64.9 224.1h0M66.2 195.5h0M56.2 188.6h0M55.5 235.0h0M77.3 195.2h0M77.0 236.6h0M75.8 188.2h0M70.7 212.7h0M74.3 186.4h0M62.1 214.0h0M62.6 230.1h0M75.9 209.4h0M55.1 200.9h0M72.0 186.7h0M62.6 192.0h0M59.0 193.9h0M56.1 233.2h0M68.4 195.0h0M64.4 225.6h0M67.6 227.7h0M61.0 233.5h0M64.6 195.6h0M65.5 202.8h0M50.8 219.0h0M52.2 194.7h0M52.2 198.2h0M68.0 240.6h0M66.0 211.3h0M56.0 235.7h0M51.3 195.2h0M50.8 215.5h0M64.5 183.5h0M64.1 202.7h0M65.1 212.9h0M75.1 216.6h0M69.4 197.3h0M55.3 193.3h0M71.3 222.4h0M74.1 235.9h0M75.8 242.4h0M52.3 226.2h0M64.7 225.1h0M67.5 211.3h0M65.2 210.9h0M66.8 189.0h0M65.9 229.0h0M59.7 236.3h0M54.9 203.7h0M59.5 243.3h0M56.8 237.5h0M68.2 199.2h0M71.9 216.2h0M50.8 240.3h0M50.3 231.8h0M68.7 237.3h0M77.0 190.9h0M61.1 194.9h0M71.0 237.0h0M71.7 212.1h0M70.5 231.9h0M63.9 198.2h0M74.7 218.8h0M51.7 216.2h0M64.3 209.8h0M67.2 242.6h0M76.9 239.1h0M56.9 185.7h0M59.9 212.9h0M61.8 211.9h0M52.0 189.7h0M64.4 240.1h0M59.8 231.7h0M59.0 205.9h0M69.6 235.1h0M54.9 236.9h0M50.3 214.2h0M61.9 197.5h0M71.6 213.1h0M61.5 220.5h0M72.2 209.6h0M75.8 191.2h0M70.7 218.4h0M71.7 237.5h0M74.0 189.5h0M69.1 192.1h0M73.0 201.5h0M73.4 230.8h0M64.9 230.3h0M51.7 226.9h0M60.7 232.4h0M74.6 189.8h0M50.2 234.3h0M69.8 197.7h0M69.4 239.4h0M72.4 185.6h0M76.5 239.9h0M59.4 201.1h0M58.6 238.7h0M57.0 236.0h0M56.1 205.7h0M60.3 194.6h0M63.6 237.5h0M62.7 186.6h0M63.6 192.7h0M62.6 210.7h0M72.6 209.2h0M60.0 197.5h0M55.0 227.1h0M49.7 189.8h0M61.8 228.3h0M65.6 217.9h0M77.2 204.6h0M72.1 201.4h0M53.0 214.9h0M52.3 195.0h0M51.6 217.5h0M50.8 192.0h0M76.0 187.8h0M63.5 226.1h0M68.5 224.6h0M62.5 241.1h0M75.8 189.4h0M60.1 183.9h0M74.7 188.1h0M68.5 204.8h0M58.6 198.3h0M69.4 240.9h0M51.0 218.6h0M49.5 216.8h0M59.7 201.8h0M57.8 241.4h0M68.3 241.2h0M51.0 239.8h0M76.9 235.3h0M60.5 189.1h0M72.0 237.9h0M52.9 206.7h0M49.9 227.1h0M68.0 239.2h0M75.5 185.9h0M59.5 229.6h0M75.9 227.6h0M52.3 240.1h0M53.3 194.5h0M54.4 211.2h0M68.9 236.9h0M69.1 229.5h0M61.7 228.6h0M74.7 221.2h0M70.2 230.4h0M60.0 195.5h0M67.1 203.1h0M53.9 196.2h0M52.5 195.8h0M75.8 240.6h0M52.5 201.6h0M51.3 202.3h0M61.6 226.1h0M58.1 237.0h0M57.0 213.4h0M62.9 194.3h0M52.0 195.8h0M76.4 221.2h0M64.7 230.9h0M64.0 202.2h0M50.5 198.8h0M67.6 224.4h0M77.3 214.1h0M77.1 221.7h0M62.4 227.4h0M74.8 227.1h0M55.5 242.3h0M54.7 219.8h0M75.2 233.6h0M60.0 189.1h0M61.9 202.6h0M49.6 203.4h0M76.8 199.1h0M51.6 223.5h0M67.0 220.6h0M64.0 242.8h0M60.1 201.9h0M63.6 216.3h0M51.1 221.2h0M75.9 191.2h0M52.4 199.0h0M56.6 229.3h0M72.2 197.2h0M49.4 223.9h0M66.3 194.6h0M51.9 200.1h0M67.5 186.2h0M69.4 202.4h0M52.4 220.2h0M63.8 209.0h0M72.6 189.6h0M73.2 227.5h0M64.7 243.3h0M52.8 229.0h0M62.0 197.1h0M66.0 187.2h0M71.2 191.8h0M53.6 211.9h0M66.7 214.9h0M68.5 225.7h0M67.3 221.0h0M66.5 209.5h0M49.4 194.9h0M73.1 232.4h0M75.2 196.1h0M61.5 183.5h0M59.8 238.5h0M75.6 206.9h0M59.0 233.8h0M62.6 230.6h0M51.1 200.0h0M51.9 188.9h0M49.8 235.7h0M67.7 219.4h0M70.4 203.9h0M64.9 231.3h0M55.3 236.8h0M53.8 204.8h0M76.1 228.8h0M52.0 230.6h0M51.6 191.8h0M50.7 195.8h0M63.0 214.6h0M62.3 190.1h0M59.3 184.4h0M67.2 212.0h0M69.7 223.0h0M54.3 223.8h0M68.5 226.5h0M75.4 206.8h0M58.8 187.1h0M63.5 228.7h0M54.0 242.9h0M76.9 234.0h0M51.1 239.9h0M61.3 239.1h0M58.2 193.8h0M62.3 235.2h0M69.6 212.9h0M76.1 213.4h0M63.0 236.9h0M74.5 190.8h0M64.3 226.7h0M55.0 240.9h0M60.4 214.6h0M69.7 213.8h0M62.2 197.6h0M56.0 195.3h0M58.1 243.5h0M57.1 209.2h0M70.4 239.9h0M60.0 238.4h0M76.4 214.6h0M56.7 200.9h0M75.8 237.3h0M65.5 220.4h0M51.9 228.1h0M74.5 224.7h0M59.8 224.3h0M69.3 203.7h0M50.2 223.0h0M51.0 215.6h0M52.5 217.6h0M71.6 193.9h0M67.0 210.9h0M68.2 196.2h0M53.4 200.1h0M71.0 218.9h0M67.8 202.8h0M50.3 197.8h0M60.2 220.6h0M51.5 191.8h0M68.7 214.3h0M58.2 233.6h0M60.8 221.8h0M68.0 191.4h0M70.3 213.4h0M53.6 196.4h0M52.1 209.4h0M72.5 198.2h0M67.5 214.9h0M67.7 240.9h0M59.5 225.6h0M68.3 236.0h0M72.0 226.8h0M54.6 232.5h0M54.5 203.3h0M66.2 225.3h0M67.6 196.7h0M67.3 187.6h0M59.8 225.1h0M59.0 228.0h0M65.1 206.0h0M54.3 193.3h0M73.1 184.4h0M51.6 225.0h0M57.0 186.9h0M76.8 217.1h0M52.5 210.8h0M77.0 202.6h0M70.1 213.6h0M69.3 200.3h0M59.8 235.9h0M63.3 191.8h0M66.6 214.8h0M77.1 233.7h0M66.8 228.8h0M63.9 188.1h0M76.3 224.6h0M63.6 237.2h0M50.8 234.7h0M69.5 218.8h0M73.4 188.2h0M67.5 180.3h0M65.2 164.7h0M75.9 180.1h0M70.7 175.0h0M54.9 158.7h0M55.0 181.1h0M56.1 179.5h0M73.6 175.8h0M71.9 178.8h0M60.0 173.4h0M72.9 175.1h0M68.6 171.4h0M70.9 163.5h0M60.9 167.0h0M77.4 164.4h0M72.4 173.0h0M76.9 182.0h0M50.2 180.5h0M54.2 166.7h0M69.7 181.3h0M59.2 179.7h0M53.8 174.2h0M52.7 180.6h0M73.6 160.8h0M73.6 182.9h0M71.1 174.0h0M55.2 162.2h0M67.7 182.6h0M64.8 179.7h0M58.4 180.9h0M69.7 181.2h0M65.7 164.0h0M64.3 170.1h0M73.7 176.9h0M64.1 171.0h0M56.1 180.7h0M57.6 163.1h0M53.3 175.1h0M63.9 177.8h0M75.0 172.9h0M72.1 170.5h0M72.9 173.4h0M72.2 172.0h0M68.3 167.2h0M73.3 173.8h0M67.7 164.9h0M65.7 174.5h0M76.6 169.2h0M57.4 174.6h0M65.6 174.1h0M58.6 178.6h0M71.6 168.6h0M64.8 175.3h0M72.2 175.8h0M75.3 175.6h0M69.9 166.5h0M56.3 175.3h0M70.1 169.3h0M54.4 176.1h0M69.9 180.8h0M70.9 147.2h0M74.4 147.2h0" stroke="#0073C2" stroke-width="3.5" stroke-linecap="round" fill="none"/>
<line x1="111.2" y1="251.2" x2="111.2" y2="253.4" stroke="#222" stroke-width="0.7"/>
<text x="111.2" y="260.0" class="tk" text-anchor="middle">Dead</text>
<path d="M100.3 232.4h0M112.2 235.6h0M122.5 236.3h0M124.2 197.7h0M120.6 191.5h0M117.8 225.2h0M108.8 202.6h0M113.0 192.7h0M100.0 203.0h0M115.2 194.2h0M104.8 197.1h0M121.3 190.8h0M98.8 226.1h0M124.5 210.6h0M116.4 206.7h0M120.6 230.1h0M116.9 210.9h0M99.6 235.5h0M100.8 230.1h0M102.3 208.3h0M124.0 201.3h0M121.8 235.6h0M100.7 219.8h0M98.4 223.3h0M106.4 237.4h0M108.7 201.8h0M104.8 199.6h0M100.8 200.3h0M100.1 203.4h0M109.0 219.1h0M118.8 196.5h0M117.0 199.1h0M108.4 220.6h0M109.5 225.1h0M117.0 213.7h0M100.6 225.5h0M103.8 218.7h0M101.3 206.4h0M104.5 218.3h0M113.3 226.0h0M105.1 227.4h0M124.0 240.2h0M113.5 228.5h0M122.5 217.0h0M119.3 238.4h0M116.9 200.5h0M119.4 209.5h0M114.2 220.4h0M107.4 214.7h0M109.6 242.6h0M118.9 194.8h0M99.0 219.4h0M118.4 199.5h0M121.4 224.2h0M123.3 198.1h0M121.4 241.0h0M106.9 229.9h0M100.5 230.9h0M123.8 191.1h0M119.2 218.8h0M115.8 190.4h0M115.3 221.9h0M111.9 220.3h0M111.2 198.4h0M119.0 223.2h0M123.8 203.2h0M101.6 197.0h0M109.4 191.3h0M103.3 233.7h0M119.1 192.1h0M105.4 228.4h0M100.4 196.4h0M111.2 196.2h0M112.8 242.3h0M120.7 217.8h0M113.7 242.9h0M120.5 201.2h0M103.8 232.4h0M124.1 237.4h0M109.4 237.3h0M113.9 242.6h0M102.0 236.3h0M113.4 212.2h0M102.4 217.4h0M109.4 227.4h0M107.0 221.2h0M120.3 197.5h0M122.8 238.1h0M120.4 206.6h0M102.4 190.2h0M98.7 218.9h0M123.1 213.6h0M108.3 207.2h0M121.8 207.1h0M97.9 223.8h0M122.0 235.9h0M119.9 192.1h0M121.4 236.9h0M119.8 224.1h0M103.3 224.5h0M98.5 199.6h0M115.7 227.5h0M104.4 220.2h0M108.8 200.9h0M103.1 217.2h0M124.5 212.6h0M108.9 231.8h0M124.2 215.4h0M111.1 194.3h0M107.2 198.4h0M113.6 213.8h0M122.3 214.6h0M118.7 209.3h0M111.1 205.8h0M111.3 191.6h0M106.6 229.3h0M113.6 225.6h0M118.2 222.0h0M116.5 239.7h0M114.7 192.9h0M98.5 238.5h0M100.0 202.8h0M110.8 210.4h0M110.1 224.9h0M99.5 195.5h0M111.6 211.5h0M124.5 239.0h0M100.6 204.5h0M117.8 223.9h0M116.5 191.7h0M109.9 189.9h0M101.4 208.3h0M115.3 219.8h0M107.6 220.1h0M117.9 240.1h0M107.0 210.2h0M120.9 228.6h0M107.4 236.5h0M102.8 219.5h0M117.7 239.0h0M118.9 235.9h0M116.6 219.1h0M110.7 189.5h0M112.2 239.5h0M110.6 202.9h0M123.5 243.3h0M120.8 205.5h0M109.9 206.2h0M123.0 216.6h0M116.5 216.1h0M109.2 208.7h0M119.4 218.7h0M118.6 208.4h0M117.5 216.4h0M115.7 228.8h0M109.4 241.4h0M121.0 202.1h0M104.6 213.9h0M124.6 233.4h0M106.5 241.8h0M98.5 193.0h0M108.9 238.6h0M122.1 222.7h0M107.5 205.1h0M106.5 212.7h0M105.4 198.4h0M109.4 242.4h0M117.1 194.6h0M112.5 230.0h0M107.9 201.1h0M114.0 187.5h0M99.5 177.5h0M120.8 162.7h0M113.9 169.9h0M118.8 189.0h0M112.9 179.8h0M113.2 160.1h0M117.4 182.8h0M111.7 174.2h0M117.2 165.2h0M110.1 181.0h0M118.3 185.1h0M124.7 168.9h0M118.0 164.6h0M108.1 179.7h0M124.1 174.6h0M111.0 170.1h0M112.3 188.9h0M120.6 175.9h0M102.5 182.5h0M113.8 177.5h0M112.5 168.7h0M109.5 185.2h0M103.3 188.3h0M111.1 177.4h0M106.1 162.6h0M113.6 185.0h0M99.5 163.7h0M120.1 164.7h0M108.1 169.3h0M107.2 176.6h0M101.1 177.4h0M120.8 175.7h0M121.3 170.9h0M107.4 187.3h0" stroke="#EFC000" stroke-width="3.5" stroke-linecap="round" fill="none"/>
<g stroke="#000" stroke-width="1.0"><line x1="63.4" y1="184.6" x2="63.4" y2="246.2"/><line x1="60.0" y1="184.6" x2="66.8" y2="184.6"/><line x1="60.0" y1="246.2" x2="66.8" y2="246.2"/><line x1="55.4" y1="215.2" x2="71.4" y2="215.2"/></g>
<g stroke="#000" stroke-width="1.0"><line x1="111.2" y1="175.2" x2="111.2" y2="241.2"/><line x1="107.8" y1="175.2" x2="114.6" y2="175.2"/><line x1="107.8" y1="241.2" x2="114.6" y2="241.2"/><line x1="103.2" y1="208.1" x2="119.2" y2="208.1"/></g>
<path d="M63.4 147.0V145H111.2V147.0" fill="none" stroke="#333" stroke-width="0.95"/>
<text x="87.3" y="145.5" class="sig" text-anchor="middle">*</text>
<text x="87.3" y="270.0" class="xt" text-anchor="middle">PFI event</text>
<text transform="translate(11.2,194.9) rotate(-90) scale(1,0.95)" class="yt" text-anchor="middle">The expression of COMP</text>
<text transform="translate(17.2,194.9) rotate(-90)" class="yt" text-anchor="middle">Log<tspan font-size="4.7" dy="1.7">2</tspan><tspan dy="-1.7"> (TPM+1)</tspan></text>
<text x="3.6" y="142.7" class="L">E</text>
<line x1="168.8" y1="138.5" x2="168.8" y2="251.9" stroke="#1a1a1a" stroke-width="1.0"/>
<line x1="168.3" y1="251.4" x2="272.1" y2="251.4" stroke="#1a1a1a" stroke-width="1.0"/>
<line x1="166.6" y1="245.0" x2="168.8" y2="245.0" stroke="#222" stroke-width="0.7"/>
<text x="164.2" y="247.0" class="tk" text-anchor="end">0</text>
<line x1="166.6" y1="224.0" x2="168.8" y2="224.0" stroke="#222" stroke-width="0.7"/>
<text x="164.2" y="226.0" class="tk" text-anchor="end">2</text>
<line x1="166.6" y1="203.0" x2="168.8" y2="203.0" stroke="#222" stroke-width="0.7"/>
<text x="164.2" y="205.0" class="tk" text-anchor="end">4</text>
<line x1="166.6" y1="182.0" x2="168.8" y2="182.0" stroke="#222" stroke-width="0.7"/>
<text x="164.2" y="184.0" class="tk" text-anchor="end">6</text>
<line x1="166.6" y1="161.0" x2="168.8" y2="161.0" stroke="#222" stroke-width="0.7"/>
<text x="164.2" y="163.0" class="tk" text-anchor="end">8</text>
<line x1="166.6" y1="140.0" x2="168.8" y2="140.0" stroke="#222" stroke-width="0.7"/>
<text x="164.2" y="142.0" class="tk" text-anchor="end">10</text>
<line x1="197.4" y1="251.4" x2="197.4" y2="253.6" stroke="#222" stroke-width="0.7"/>
<text x="197.4" y="260.0" class="tk" text-anchor="middle">Alive</text>
<path d="M191.4 215.6h0M199.2 243.3h0M189.4 190.4h0M185.7 237.4h0M186.3 208.4h0M194.5 214.9h0M195.1 228.8h0M210.9 198.7h0M211.0 214.9h0M197.9 212.7h0M184.3 233.0h0M193.7 216.6h0M197.1 210.2h0M202.2 197.8h0M183.5 237.4h0M207.1 228.7h0M190.4 192.3h0M187.7 236.3h0M197.6 233.1h0M200.3 232.2h0M183.7 233.2h0M203.9 217.4h0M187.2 204.0h0M200.6 244.0h0M194.0 186.4h0M201.5 204.4h0M185.0 243.0h0M196.8 210.4h0M202.1 226.3h0M187.9 234.8h0M192.9 195.7h0M190.5 237.5h0M195.8 233.5h0M186.4 209.8h0M191.7 243.4h0M206.3 233.8h0M211.2 243.9h0M208.5 202.2h0M196.0 194.8h0M197.3 226.5h0M204.3 187.5h0M199.7 225.0h0M199.4 226.5h0M187.9 242.6h0M183.6 221.2h0M207.3 195.3h0M184.2 212.9h0M195.8 204.3h0M194.5 190.5h0M204.7 208.2h0M207.3 218.9h0M188.5 192.4h0M185.8 242.9h0M194.9 235.4h0M200.8 236.5h0M195.2 224.0h0M209.4 193.8h0M187.7 235.6h0M187.8 240.4h0M200.9 231.4h0M210.9 238.2h0M197.0 207.5h0M201.8 207.2h0M203.0 237.3h0M189.9 221.8h0M197.0 238.2h0M211.4 212.0h0M191.4 191.7h0M201.5 241.1h0M183.5 204.8h0M193.8 217.7h0M196.9 197.8h0M205.6 197.7h0M186.6 229.3h0M204.8 230.3h0M202.1 222.0h0M194.1 228.2h0M193.5 209.6h0M188.0 208.4h0M186.4 201.8h0M205.5 198.0h0M193.9 212.5h0M185.8 214.5h0M195.7 187.4h0M204.1 225.9h0M197.3 243.3h0M201.0 198.0h0M193.7 207.5h0M190.8 200.6h0M199.4 207.1h0M184.9 200.9h0M192.8 236.0h0M200.1 204.4h0M203.0 212.1h0M203.1 218.7h0M205.5 241.3h0M190.6 197.1h0M206.4 197.8h0M192.3 193.2h0M197.1 193.5h0M192.5 239.7h0M202.7 218.3h0M199.9 194.9h0M208.0 208.7h0M205.7 213.9h0M201.3 237.1h0M202.1 194.3h0M210.9 244.3h0M191.8 218.0h0M189.9 242.4h0M188.5 213.5h0M194.7 220.4h0M200.8 203.0h0M192.5 228.1h0M183.5 194.0h0M201.2 219.4h0M197.3 201.6h0M196.8 240.3h0M188.6 223.7h0M191.3 240.8h0M208.3 232.1h0M187.5 201.5h0M196.3 243.3h0M207.8 218.4h0M202.1 191.2h0M189.3 192.8h0M205.0 221.1h0M205.5 223.5h0M188.0 211.2h0M197.3 206.0h0M203.2 191.2h0M188.3 238.1h0M203.9 193.8h0M211.0 210.1h0M207.8 223.1h0M191.6 227.8h0M195.2 225.9h0M201.8 215.5h0M200.1 188.1h0M189.7 216.4h0M188.4 189.9h0M195.6 225.5h0M204.2 210.1h0M205.9 237.5h0M201.7 222.0h0M198.8 214.5h0M198.6 191.4h0M207.0 198.0h0M191.9 214.2h0M204.6 221.5h0M188.4 198.0h0M200.0 243.3h0M210.4 202.8h0M196.0 223.6h0M185.5 235.4h0M197.6 210.2h0M201.8 194.1h0M185.1 198.8h0M206.3 243.4h0M205.5 231.7h0M208.8 237.5h0M185.3 225.2h0M194.0 192.8h0M187.3 234.2h0M187.5 244.9h0M210.9 226.3h0M202.5 242.0h0M197.0 208.3h0M185.7 188.7h0M206.4 206.4h0M200.1 232.4h0M194.8 201.1h0M191.6 196.7h0M186.0 237.5h0M196.0 233.3h0M189.6 204.6h0M201.4 214.8h0M203.8 240.8h0M209.2 242.1h0M192.4 202.5h0M200.1 221.2h0M190.9 196.3h0M189.9 243.2h0M204.0 243.8h0M210.8 237.8h0M206.3 232.5h0M189.0 210.6h0M199.9 222.7h0M208.0 222.1h0M187.3 231.8h0M190.0 228.5h0M199.6 205.1h0M184.0 227.6h0M195.1 203.0h0M210.1 208.9h0M183.4 234.4h0M195.8 203.4h0M210.2 199.1h0M191.7 237.2h0M209.5 204.1h0M210.4 204.9h0M207.9 224.8h0M196.7 216.6h0M206.9 190.0h0M200.6 222.2h0M200.6 190.5h0M211.4 197.9h0M189.2 218.5h0M205.9 197.4h0M207.3 236.0h0M183.6 208.0h0M191.6 196.0h0M200.4 188.5h0M197.7 214.1h0M199.3 207.2h0M196.8 214.9h0M200.0 215.4h0M206.5 192.6h0M196.8 217.1h0M205.0 230.1h0M191.7 226.5h0M197.4 210.0h0M193.5 235.4h0M203.8 199.6h0M207.2 203.3h0M183.4 218.6h0M196.4 231.6h0M196.0 205.2h0M184.6 191.8h0M187.9 196.9h0M202.7 192.2h0M187.7 235.6h0M203.6 231.6h0M195.8 238.2h0M183.4 243.9h0M199.5 223.8h0M198.7 218.3h0M191.4 197.6h0M207.0 213.5h0M204.5 228.2h0M193.1 226.9h0M209.8 211.2h0M205.3 225.8h0M209.3 244.3h0M202.0 241.6h0M206.0 207.7h0M192.0 188.7h0M201.3 190.9h0M194.1 214.5h0M195.2 198.1h0M191.3 217.0h0M190.4 228.1h0M207.3 191.8h0M204.4 198.8h0M193.7 225.5h0M211.0 218.6h0M206.1 213.8h0M208.5 204.3h0M184.0 242.6h0M185.8 190.8h0M184.9 187.7h0M199.7 197.4h0M196.1 192.3h0M207.3 193.5h0M209.6 208.3h0M201.9 203.2h0M206.1 187.9h0M203.3 239.0h0M210.4 188.9h0M202.7 226.8h0M193.2 218.6h0M202.1 217.5h0M209.8 229.0h0M196.5 228.0h0M189.4 224.5h0M185.7 235.6h0M189.9 190.5h0M197.1 195.4h0M193.5 192.8h0M190.4 234.4h0M202.3 186.8h0M199.8 200.8h0M190.1 187.0h0M188.2 236.5h0M196.2 221.7h0M199.1 215.5h0M209.0 243.9h0M194.9 210.0h0M198.9 188.7h0M211.1 189.7h0M205.2 201.8h0M198.4 240.2h0M197.6 200.3h0M207.2 198.6h0M188.4 244.6h0M192.3 218.9h0M189.4 229.6h0M192.3 224.7h0M208.4 235.2h0M183.9 209.3h0M195.3 238.2h0M186.9 233.7h0M200.4 235.4h0M193.9 232.7h0M206.3 216.8h0M196.3 223.6h0M203.3 239.4h0M195.5 235.0h0M190.5 193.8h0M192.9 233.0h0M191.4 241.0h0M211.3 223.6h0M209.9 240.1h0M203.8 204.7h0M188.0 214.6h0M211.2 238.3h0M207.6 211.7h0M195.7 187.4h0M191.7 210.5h0M189.9 204.0h0M184.8 209.6h0M200.7 223.9h0M185.5 244.5h0M209.9 202.8h0M200.6 228.1h0M202.1 234.6h0M203.0 195.7h0M194.8 190.1h0M204.1 203.8h0M207.6 213.5h0M210.5 213.2h0M191.9 224.6h0M188.4 203.2h0M201.0 221.0h0M197.4 228.4h0M206.4 187.8h0M198.9 193.8h0M211.1 232.2h0M185.0 204.1h0M207.8 188.8h0M208.6 202.1h0M199.6 232.4h0M194.0 225.7h0M188.9 242.1h0M184.8 207.8h0M183.7 195.5h0M196.9 195.2h0M204.8 229.6h0M193.2 218.7h0M185.4 221.8h0M196.1 210.9h0M185.6 222.1h0M196.1 215.5h0M201.1 191.2h0M201.7 219.4h0M194.2 191.4h0M186.1 198.0h0M190.8 219.3h0M195.5 230.5h0M192.3 213.3h0M202.8 222.9h0M185.2 205.4h0M202.0 243.3h0M210.7 199.8h0M209.4 213.4h0M193.8 211.5h0M187.1 191.5h0M192.9 211.8h0M192.0 210.8h0M198.2 238.0h0M200.2 242.3h0M204.4 230.6h0M206.5 210.9h0M194.8 196.7h0M188.8 222.1h0M205.3 220.4h0M198.5 241.1h0M185.2 222.1h0M189.7 228.4h0M205.5 231.3h0M191.9 217.3h0M188.9 218.6h0M209.7 196.5h0M210.9 198.0h0M195.9 211.0h0M200.6 193.3h0M201.5 212.9h0M209.8 191.5h0M204.5 186.7h0M197.7 206.1h0M194.5 214.8h0M198.1 212.6h0M188.3 207.3h0M190.3 216.8h0M209.7 232.5h0M208.5 205.6h0M189.1 227.5h0M210.4 209.9h0M200.4 231.5h0M210.9 218.4h0M193.1 189.3h0M195.8 209.1h0M202.2 210.0h0M208.0 226.3h0M211.0 210.5h0M192.3 204.5h0M193.0 239.6h0M188.3 225.8h0M199.5 220.6h0M186.1 239.2h0M209.0 238.5h0M189.0 204.5h0M207.5 235.6h0M197.2 189.7h0M210.1 205.1h0M203.0 208.9h0M194.6 237.7h0M210.3 244.6h0M193.9 198.0h0M209.9 213.4h0M203.5 187.4h0M189.7 227.5h0M190.5 198.7h0M209.0 220.1h0M197.7 206.9h0M184.8 238.1h0M206.7 218.8h0M196.9 229.2h0M201.8 230.4h0M192.2 189.6h0M193.9 230.1h0M192.0 191.1h0M193.7 205.2h0M196.8 200.5h0M208.8 219.8h0M195.6 202.0h0M196.5 188.1h0M203.2 193.4h0M206.3 189.4h0M192.3 242.2h0M190.9 186.3h0M189.0 205.6h0M204.3 244.6h0M184.6 189.5h0M211.4 219.8h0M206.7 191.9h0M191.0 193.6h0M191.4 225.7h0M188.8 235.6h0M190.9 243.6h0M197.9 235.0h0M195.5 237.5h0M205.4 229.2h0M185.7 197.5h0M202.8 201.4h0M188.7 213.1h0M190.7 234.4h0M203.7 220.9h0M195.7 241.0h0M204.2 239.1h0M184.3 201.9h0M205.8 204.9h0M206.2 222.4h0M197.5 215.1h0M198.8 203.9h0M186.8 197.2h0M203.5 216.3h0M186.4 211.3h0M185.4 202.1h0M196.5 189.5h0M194.7 220.4h0M185.9 196.1h0M201.4 234.3h0M209.6 201.7h0M205.5 229.5h0M191.8 195.4h0M210.4 212.7h0M200.2 232.3h0M203.6 193.0h0M191.6 204.7h0M202.3 173.8h0M189.4 177.0h0M188.9 176.2h0M211.1 183.2h0M187.2 176.6h0M205.2 174.1h0M209.5 178.2h0M196.6 173.9h0M206.4 178.7h0M192.6 170.4h0M197.4 172.8h0M194.7 184.9h0M194.4 171.5h0M202.3 181.8h0M189.0 185.0h0M194.3 184.4h0M187.5 181.2h0M207.9 177.4h0M189.5 181.1h0M203.5 183.2h0M197.5 171.5h0M199.3 180.3h0M205.4 167.9h0M196.8 182.5h0M187.6 173.6h0M193.7 180.6h0M206.3 168.8h0M187.2 174.7h0M195.0 173.9h0M187.1 184.9h0M204.9 172.0h0M188.7 180.6h0M194.4 172.3h0M185.3 169.0h0M195.5 184.4h0M190.1 186.0h0M194.0 171.8h0M208.8 162.9h0M198.3 166.8h0M204.4 179.1h0M189.9 169.4h0M206.2 185.9h0M202.9 185.4h0M207.5 176.2h0M209.7 177.3h0M192.2 169.7h0M202.1 182.7h0M204.3 178.6h0M192.7 160.8h0M190.9 181.5h0M199.5 179.7h0M188.7 175.6h0M194.2 159.8h0M211.1 183.5h0M193.5 173.6h0M191.9 179.5h0M193.5 179.8h0M198.6 182.3h0M200.8 178.6h0M198.3 176.3h0M190.4 146.3h0M206.5 146.3h0" stroke="#0073C2" stroke-width="3.5" stroke-linecap="round" fill="none"/>
<line x1="244.6" y1="251.4" x2="244.6" y2="253.6" stroke="#222" stroke-width="0.7"/>
<text x="244.6" y="260.0" class="tk" text-anchor="middle">Dead</text>
<path d="M239.8 170.4h0M251.6 230.9h0M238.1 226.8h0M253.6 235.9h0M244.4 177.4h0M248.7 202.4h0M246.5 224.7h0M235.4 209.3h0M256.9 172.0h0M249.6 230.2h0M250.4 170.5h0M237.3 175.7h0M240.3 171.2h0M248.1 176.4h0M254.4 227.7h0M244.3 192.9h0M239.8 229.1h0M240.5 184.9h0M235.6 170.5h0M253.2 197.7h0M249.4 219.5h0M247.3 183.5h0M245.3 187.6h0M238.2 189.0h0M252.2 201.0h0M239.7 222.7h0M240.6 170.4h0M255.5 207.5h0M236.4 186.5h0M241.4 238.6h0M242.7 205.6h0M254.3 190.9h0M242.1 210.6h0M244.6 172.7h0M249.9 236.9h0M253.1 184.9h0M234.6 169.2h0M234.0 174.8h0M247.8 239.6h0M255.6 230.1h0M238.4 190.9h0M248.0 190.5h0M236.2 176.4h0M244.1 183.4h0M242.2 209.0h0M239.1 170.8h0M253.6 203.9h0M234.6 236.5h0M251.7 175.0h0M233.0 182.4h0M236.0 202.8h0M246.8 221.9h0M234.6 230.1h0M233.4 239.4h0M252.4 173.9h0M247.1 188.2h0M238.7 191.4h0M239.3 206.8h0M236.4 225.7h0M256.2 229.9h0M248.4 171.5h0M251.0 229.5h0M234.5 244.2h0M250.7 172.4h0M239.2 213.1h0M242.0 166.2h0M233.1 161.3h0M252.6 163.9h0M247.7 161.1h0M249.5 163.8h0M240.6 155.2h0M248.7 157.8h0" stroke="#EFC000" stroke-width="3.5" stroke-linecap="round" fill="none"/>
<g stroke="#000" stroke-width="1.0"><line x1="197.4" y1="184.3" x2="197.4" y2="246.1"/><line x1="194.0" y1="184.3" x2="200.8" y2="184.3"/><line x1="194.0" y1="246.1" x2="200.8" y2="246.1"/><line x1="189.4" y1="215.5" x2="205.4" y2="215.5"/></g>
<g stroke="#000" stroke-width="1.0"><line x1="244.6" y1="172.1" x2="244.6" y2="235.3"/><line x1="241.2" y1="172.1" x2="248.0" y2="172.1"/><line x1="241.2" y1="235.3" x2="248.0" y2="235.3"/><line x1="236.6" y1="203.8" x2="252.6" y2="203.8"/></g>
<path d="M197.4 146.5V144.5H244.6V146.5" fill="none" stroke="#333" stroke-width="0.95"/>
<text x="221.0" y="145.0" class="sig" text-anchor="middle">**</text>
<text x="221.1" y="270.0" class="xt" text-anchor="middle">DSS event</text>
<text transform="translate(144.6,194.9) rotate(-90) scale(1,0.95)" class="yt" text-anchor="middle">The expression of COMP</text>
<text transform="translate(151.0,194.9) rotate(-90)" class="yt" text-anchor="middle">Log<tspan font-size="4.7" dy="1.7">2</tspan><tspan dy="-1.7"> (TPM+1)</tspan></text>
<text x="136.7" y="142.9" class="L">F</text>
<line x1="302.7" y1="138.5" x2="302.7" y2="251.2" stroke="#1a1a1a" stroke-width="1.0"/>
<line x1="302.2" y1="250.7" x2="406.3" y2="250.7" stroke="#1a1a1a" stroke-width="1.0"/>
<line x1="300.5" y1="243.5" x2="302.7" y2="243.5" stroke="#222" stroke-width="0.7"/>
<text x="296.9" y="245.5" class="tk" text-anchor="end">0</text>
<line x1="300.5" y1="222.8" x2="302.7" y2="222.8" stroke="#222" stroke-width="0.7"/>
<text x="296.9" y="224.8" class="tk" text-anchor="end">2</text>
<line x1="300.5" y1="202.2" x2="302.7" y2="202.2" stroke="#222" stroke-width="0.7"/>
<text x="296.9" y="204.2" class="tk" text-anchor="end">4</text>
<line x1="300.5" y1="181.5" x2="302.7" y2="181.5" stroke="#222" stroke-width="0.7"/>
<text x="296.9" y="183.5" class="tk" text-anchor="end">6</text>
<line x1="300.5" y1="160.9" x2="302.7" y2="160.9" stroke="#222" stroke-width="0.7"/>
<text x="296.9" y="162.9" class="tk" text-anchor="end">8</text>
<line x1="300.5" y1="140.2" x2="302.7" y2="140.2" stroke="#222" stroke-width="0.7"/>
<text x="296.9" y="142.2" class="tk" text-anchor="end">10</text>
<line x1="330.7" y1="250.7" x2="330.7" y2="252.9" stroke="#222" stroke-width="0.7"/>
<text x="330.7" y="260.0" class="tk" text-anchor="middle">&lt;=65</text>
<path d="M338.9 191.4h0M318.9 227.6h0M335.5 185.8h0M329.2 243.3h0M336.6 183.5h0M323.4 193.9h0M331.4 216.8h0M332.7 218.6h0M338.1 236.4h0M332.1 213.2h0M330.6 196.2h0M319.0 210.7h0M344.5 183.0h0M337.6 207.0h0M339.3 236.3h0M340.3 210.0h0M343.1 209.8h0M333.4 240.4h0M322.9 224.0h0M336.7 185.1h0M339.7 215.7h0M333.7 214.4h0M333.7 206.7h0M322.3 198.1h0M339.9 186.9h0M344.3 190.2h0M337.7 227.2h0M338.5 203.6h0M330.7 209.4h0M332.1 243.4h0M320.6 219.1h0M317.8 240.2h0M322.7 188.1h0M336.2 232.1h0M324.5 233.7h0M321.2 202.9h0M328.3 215.4h0M319.8 241.2h0M321.8 193.1h0M339.6 238.6h0M329.8 221.9h0M337.3 183.3h0M336.9 212.6h0M336.1 187.6h0M336.9 195.8h0M330.4 198.6h0M336.8 201.7h0M332.9 225.5h0M323.3 214.1h0M343.8 215.2h0M317.6 197.7h0M317.8 232.5h0M334.1 219.1h0M329.0 183.6h0M339.9 211.5h0M340.0 200.3h0M331.3 200.3h0M322.5 224.1h0M341.7 221.7h0M324.3 189.1h0M329.5 232.7h0M331.3 227.7h0M330.9 222.9h0M342.6 216.9h0M323.9 207.9h0M322.8 183.9h0M324.5 198.2h0M343.7 239.8h0M323.4 197.7h0M317.7 196.2h0M344.3 213.2h0M330.7 217.9h0M327.7 241.6h0M317.6 186.9h0M325.7 226.8h0M343.7 188.8h0M334.4 241.2h0M328.6 197.6h0M342.2 237.7h0M325.0 203.8h0M319.5 243.3h0M343.8 217.3h0M318.0 182.7h0M343.4 236.4h0M341.2 205.1h0M337.3 217.8h0M320.5 206.5h0M331.6 231.6h0M320.4 206.0h0M331.4 221.6h0M337.7 193.7h0M330.2 243.5h0M317.9 217.7h0M335.9 222.9h0M327.5 198.4h0M317.3 193.9h0M327.6 211.0h0M341.0 206.2h0M328.4 194.0h0M329.7 188.8h0M334.4 236.2h0M342.3 194.7h0M321.5 198.2h0M325.0 183.0h0M337.6 193.0h0M316.9 204.5h0M321.3 228.6h0M335.5 219.9h0M337.8 233.9h0M327.8 238.1h0M331.6 210.6h0M335.2 213.4h0M323.3 211.7h0M324.2 230.1h0M319.6 182.6h0M338.6 200.4h0M330.8 211.8h0M322.4 231.2h0M325.9 228.8h0M341.4 198.1h0M333.3 223.0h0M323.8 199.2h0M321.1 191.1h0M331.1 201.1h0M335.8 212.0h0M327.4 215.9h0M334.0 238.0h0M321.7 186.3h0M329.1 218.4h0M324.0 212.8h0M335.8 189.0h0M339.4 235.6h0M320.0 224.9h0M334.1 194.7h0M324.1 233.1h0M317.3 219.9h0M330.7 216.9h0M335.6 192.4h0M329.3 236.9h0M340.1 212.4h0M325.6 221.6h0M342.2 211.2h0M334.8 235.1h0M326.5 190.7h0M339.2 225.9h0M338.5 236.2h0M330.4 205.3h0M344.5 207.5h0M339.5 242.9h0M334.8 196.3h0M319.4 235.6h0M325.9 201.1h0M329.0 201.4h0M320.0 220.1h0M324.6 214.3h0M324.0 187.0h0M329.2 203.1h0M318.0 189.9h0M318.3 228.0h0M324.6 190.0h0M328.0 226.5h0M324.3 243.2h0M339.7 184.8h0M331.1 186.0h0M319.4 194.0h0M340.3 232.6h0M316.7 185.2h0M338.3 200.7h0M318.1 198.9h0M326.0 227.4h0M328.5 240.0h0M332.6 241.5h0M338.8 213.8h0M339.7 211.2h0M320.8 216.0h0M331.9 225.2h0M339.3 232.5h0M340.4 204.8h0M324.8 217.3h0M342.0 227.9h0M318.2 226.6h0M329.7 219.5h0M324.9 215.1h0M322.9 200.9h0M339.6 204.9h0M338.5 234.3h0M318.0 186.2h0M337.1 203.8h0M332.9 228.5h0M329.7 197.4h0M325.6 230.3h0M317.7 231.9h0M329.2 230.4h0M327.7 224.2h0M327.4 184.3h0M334.0 238.0h0M342.5 219.9h0M336.5 228.6h0M324.6 226.3h0M336.8 237.1h0M341.6 217.5h0M330.6 224.2h0M324.8 191.3h0M334.1 243.4h0M327.1 223.1h0M335.8 215.2h0M332.1 203.2h0M329.4 187.8h0M324.2 188.2h0M317.6 188.2h0M319.9 241.2h0M344.5 202.0h0M326.5 243.3h0M339.0 204.3h0M322.6 219.6h0M332.3 198.6h0M320.3 223.5h0M340.6 241.1h0M339.3 184.1h0M318.2 194.7h0M335.6 219.8h0M320.8 241.5h0M337.2 228.0h0M330.1 239.9h0M336.3 217.4h0M337.0 230.9h0M318.9 239.2h0M338.2 209.2h0M321.7 232.4h0M336.9 199.8h0M333.8 208.1h0M322.9 217.0h0M338.3 212.1h0M329.4 191.9h0M341.8 237.4h0M317.7 191.3h0M322.3 241.7h0M319.9 226.9h0M337.0 226.6h0M340.3 230.0h0M324.2 218.6h0M341.3 236.8h0M322.6 205.7h0M339.7 224.5h0M323.6 198.9h0M340.7 209.4h0M322.4 201.4h0M331.4 227.9h0M322.6 224.3h0M321.2 215.4h0M343.3 217.7h0M317.2 188.6h0M325.0 232.3h0M319.7 221.8h0M336.9 208.6h0M321.1 238.0h0M337.0 197.4h0M322.9 221.9h0M339.1 204.6h0M324.0 185.9h0M341.6 230.3h0M318.7 227.5h0M333.2 205.6h0M339.9 205.3h0M331.1 213.5h0M321.3 239.2h0M328.7 240.0h0M319.1 210.9h0M339.2 234.6h0M320.6 192.6h0M325.5 223.9h0M338.5 191.4h0M319.3 239.5h0M333.3 230.1h0M326.7 240.2h0M332.7 194.0h0M335.3 241.7h0M328.9 189.2h0M331.7 232.8h0M341.7 194.9h0M322.5 204.0h0M329.5 191.7h0M344.7 193.3h0M343.2 190.6h0M336.3 223.4h0M339.8 205.7h0M325.0 222.5h0M339.7 219.6h0M339.8 200.8h0M326.7 233.1h0M343.9 197.6h0M328.0 241.4h0M337.5 199.5h0M327.0 226.7h0M318.6 204.9h0M325.4 222.7h0M319.9 189.1h0M321.5 228.4h0M332.8 198.1h0M332.2 237.4h0M344.4 199.9h0M325.8 191.2h0M318.6 207.9h0M326.6 189.4h0M340.9 228.2h0M333.9 190.3h0M337.5 210.2h0M339.7 213.7h0M336.8 185.6h0M329.5 243.2h0M333.5 228.1h0M341.5 202.2h0M334.5 214.4h0M323.9 237.0h0M332.5 194.2h0M316.9 210.4h0M341.2 243.1h0M340.5 212.1h0M322.6 232.7h0M329.6 184.2h0M334.6 201.8h0M340.7 210.6h0M324.6 211.9h0M335.8 212.2h0M324.3 213.2h0M323.1 219.4h0M344.0 243.3h0M317.1 220.5h0M334.5 202.9h0M333.1 224.9h0M326.8 172.5h0M332.0 175.4h0M329.7 172.3h0M321.4 173.9h0M320.2 175.8h0M335.7 172.8h0M325.1 176.1h0M318.4 181.8h0M319.9 174.8h0M339.5 163.4h0M325.3 170.3h0M338.4 179.0h0M342.7 175.2h0M323.2 181.3h0M331.4 171.9h0M327.1 177.3h0M320.2 173.7h0M330.5 161.9h0M318.9 173.3h0M333.8 168.8h0M344.6 182.5h0M336.9 178.2h0M317.9 173.8h0M321.6 180.1h0M336.6 174.4h0M324.1 177.9h0M340.5 175.8h0M331.3 181.5h0M336.7 171.0h0M336.3 179.1h0M318.9 178.1h0M326.9 180.5h0M344.7 179.2h0M323.5 180.7h0M324.9 160.1h0M332.6 168.6h0M317.7 170.1h0M341.2 181.5h0M331.9 179.2h0M323.1 164.8h0M320.2 146.4h0M324.6 146.4h0" stroke="#0073C2" stroke-width="3.5" stroke-linecap="round" fill="none"/>
<line x1="378.3" y1="250.7" x2="378.3" y2="252.9" stroke="#222" stroke-width="0.7"/>
<text x="378.3" y="260.0" class="tk" text-anchor="middle">&gt;65</text>
<path d="M376.5 222.6h0M380.7 193.7h0M389.3 211.8h0M391.9 202.1h0M378.6 210.4h0M370.9 239.8h0M387.8 200.9h0M382.4 214.2h0M380.6 205.9h0M380.1 226.2h0M385.4 191.9h0M377.3 219.1h0M373.8 241.7h0M379.0 193.1h0M381.0 241.8h0M369.6 200.0h0M379.2 199.6h0M390.7 223.6h0M378.9 234.0h0M376.6 201.1h0M392.0 232.9h0M372.6 196.1h0M384.1 227.3h0M373.1 203.8h0M391.1 185.9h0M381.6 218.6h0M364.7 230.3h0M370.1 198.1h0M370.0 231.1h0M372.0 224.8h0M376.7 209.9h0M381.3 191.6h0M376.8 191.8h0M367.6 197.0h0M384.2 234.7h0M372.9 189.7h0M391.2 235.0h0M388.4 203.2h0M383.3 217.3h0M377.4 216.7h0M377.8 230.2h0M391.4 214.8h0M379.9 201.8h0M370.5 199.0h0M383.7 220.8h0M388.9 223.1h0M368.4 223.3h0M378.5 234.1h0M390.9 214.5h0M385.1 229.5h0M373.0 234.6h0M368.1 239.2h0M384.2 206.8h0M389.9 213.1h0M388.4 232.3h0M384.2 210.7h0M370.5 188.3h0M371.3 239.0h0M383.8 188.7h0M371.6 204.1h0M389.6 217.7h0M374.6 199.7h0M369.8 226.0h0M364.9 243.2h0M367.2 191.0h0M373.0 239.3h0M366.1 213.4h0M373.3 213.8h0M382.3 229.6h0M381.4 209.9h0M377.5 241.9h0M384.0 234.7h0M384.9 222.3h0M390.6 193.4h0M368.5 224.0h0M385.8 193.2h0M377.1 220.4h0M386.0 213.9h0M380.2 223.8h0M369.0 190.3h0M390.4 223.4h0M385.5 195.0h0M369.1 205.4h0M366.5 220.2h0M381.6 198.1h0M373.4 211.0h0M390.7 186.2h0M374.5 243.1h0M371.1 232.5h0M388.3 199.5h0M382.3 198.1h0M364.9 201.6h0M373.1 216.9h0M379.2 207.1h0M387.7 235.5h0M392.1 225.3h0M366.2 242.4h0M382.9 228.2h0M370.6 237.2h0M385.5 198.2h0M365.7 207.4h0M384.7 198.1h0M370.4 192.7h0M366.7 237.8h0M366.7 206.4h0M379.2 204.8h0M365.0 243.3h0M385.2 222.2h0M372.5 197.9h0M386.8 218.1h0M370.7 190.8h0M377.9 242.1h0M374.8 204.7h0M382.2 208.4h0M389.1 185.7h0M383.1 240.7h0M376.7 194.4h0M387.1 211.2h0M365.5 201.3h0M374.1 237.0h0M372.7 199.7h0M391.0 200.1h0M367.1 191.3h0M378.7 198.9h0M368.0 221.9h0M368.6 219.6h0M384.5 211.1h0M388.2 207.2h0M381.2 215.4h0M379.6 213.7h0M369.2 242.6h0M377.0 211.3h0M368.3 210.6h0M370.6 229.1h0M380.6 213.9h0M377.5 219.4h0M382.4 206.7h0M390.1 232.9h0M385.4 198.0h0M375.6 193.6h0M365.6 229.3h0M380.3 187.0h0M380.4 239.0h0M368.1 188.8h0M370.1 207.9h0M385.6 201.7h0M370.3 204.1h0M367.6 205.8h0M391.3 189.8h0M380.3 217.3h0M390.3 201.4h0M365.3 222.7h0M373.2 189.2h0M370.2 206.2h0M388.9 201.3h0M390.2 233.2h0M378.6 205.5h0M388.1 223.2h0M373.2 237.0h0M383.6 220.5h0M375.0 204.4h0M367.1 220.5h0M379.4 207.3h0M385.3 192.5h0M389.8 189.3h0M377.9 190.4h0M371.3 238.4h0M364.9 216.5h0M386.7 228.6h0M369.5 232.4h0M368.7 240.6h0M383.0 235.8h0M373.1 210.0h0M367.0 223.0h0M378.6 228.3h0M370.2 195.8h0M370.5 210.5h0M365.8 208.5h0M369.9 189.8h0M369.1 226.4h0M383.8 230.0h0M390.9 222.2h0M376.8 213.2h0M364.9 210.6h0M384.6 192.5h0M391.0 243.3h0M372.7 216.9h0M382.0 234.7h0M365.8 215.6h0M367.5 213.9h0M378.6 221.4h0M391.9 219.6h0M376.3 206.7h0M376.3 215.0h0M382.0 195.7h0M370.1 224.9h0M374.5 222.9h0M387.0 199.4h0M386.9 193.0h0M372.3 198.7h0M368.4 231.5h0M368.7 229.3h0M368.7 242.0h0M376.7 207.1h0M379.1 213.9h0M368.7 215.5h0M388.1 189.6h0M370.2 230.0h0M379.9 211.2h0M383.2 210.0h0M379.3 202.7h0M364.7 227.4h0M379.3 224.2h0M391.7 224.2h0M378.1 227.4h0M388.4 220.8h0M367.6 208.0h0M386.4 199.5h0M377.7 203.9h0M379.8 225.4h0M364.8 233.3h0M379.2 218.8h0M384.3 232.8h0M370.2 221.3h0M385.7 191.4h0M382.7 218.9h0M378.0 236.0h0M379.9 205.0h0M380.2 188.3h0M386.5 203.1h0M380.3 229.4h0M390.9 230.1h0M374.2 243.3h0M385.1 196.2h0M371.6 242.3h0M372.0 232.1h0M366.2 241.8h0M369.7 220.7h0M380.8 202.9h0M388.4 209.8h0M366.8 191.8h0M377.8 222.4h0M373.7 228.9h0M387.8 191.0h0M388.7 224.7h0M385.5 238.3h0M366.6 199.7h0M373.6 241.4h0M385.3 193.1h0M367.6 185.8h0M366.1 227.2h0M379.0 223.0h0M375.6 226.9h0M370.3 228.4h0M366.9 218.6h0M370.8 204.0h0M365.4 202.2h0M385.6 205.2h0M373.8 200.6h0M375.0 237.0h0M377.7 187.9h0M371.6 228.6h0M388.2 219.1h0M389.9 200.6h0M392.0 221.3h0M377.0 195.3h0M373.5 188.2h0M381.4 221.3h0M386.8 211.4h0M386.8 233.3h0M372.4 205.2h0M384.3 220.6h0M388.7 201.7h0M367.8 191.2h0M382.6 190.9h0M366.2 240.1h0M377.2 200.5h0M385.9 200.9h0M389.7 192.5h0M387.5 226.8h0M381.1 186.4h0M385.8 240.8h0M380.2 219.4h0M370.0 187.9h0M373.6 200.5h0M372.8 215.6h0M386.3 189.1h0M373.5 218.3h0M391.5 237.8h0M383.7 237.1h0M378.7 212.4h0M382.3 189.8h0M385.5 213.2h0M368.9 198.8h0M386.6 210.2h0M389.4 211.1h0M379.5 189.1h0M368.6 232.4h0M369.3 193.7h0M377.4 242.0h0M369.3 238.1h0M391.7 193.4h0M376.5 187.6h0M391.0 227.8h0M374.9 235.3h0M376.5 188.0h0M383.8 200.3h0M385.7 198.2h0M370.1 225.4h0M390.7 190.2h0M384.9 236.4h0M367.0 234.0h0M371.1 232.5h0M386.8 222.3h0M364.7 197.8h0M390.1 223.6h0M374.1 191.7h0M381.2 191.9h0M386.8 195.8h0M372.9 212.4h0M371.1 227.6h0M386.8 205.9h0M364.6 213.5h0M372.1 214.3h0M378.8 204.0h0M377.8 199.1h0M378.8 193.4h0M366.1 205.6h0M373.2 192.0h0M367.6 192.6h0M369.0 194.7h0M374.6 213.9h0M389.6 232.8h0M366.2 235.8h0M389.9 236.8h0M382.0 193.9h0M367.8 191.8h0M387.7 241.7h0M367.0 211.2h0M375.5 223.1h0M386.3 173.2h0M381.7 169.9h0M386.3 177.7h0M375.7 177.9h0M386.0 157.5h0M379.7 161.5h0M366.3 171.4h0M379.5 184.2h0M373.4 168.9h0M367.6 173.6h0M370.4 184.5h0M387.5 173.3h0M375.1 167.3h0M371.9 166.3h0M367.6 176.4h0M375.3 163.2h0M389.8 166.7h0M375.9 176.8h0M391.3 177.6h0M385.7 178.4h0M372.3 160.4h0M391.4 170.3h0M386.4 161.1h0M381.6 178.0h0M384.2 164.4h0M376.2 180.0h0M364.8 169.7h0M387.0 169.4h0M370.6 180.7h0M365.7 184.9h0M390.7 166.6h0M384.9 178.8h0M368.7 184.8h0M388.6 179.0h0M365.4 183.6h0M387.5 184.7h0M371.7 171.7h0M389.8 164.3h0M390.2 170.2h0M387.9 180.7h0M371.2 165.6h0M385.4 173.3h0M365.4 180.2h0M365.6 183.1h0M373.2 164.2h0M369.3 165.3h0M377.3 181.3h0M378.7 180.1h0M376.7 167.4h0M370.3 185.5h0M383.2 171.7h0M380.3 172.6h0M368.0 177.5h0M385.1 172.5h0M381.8 178.8h0M366.2 154.7h0M366.7 158.8h0M377.4 157.8h0" stroke="#EFC000" stroke-width="3.5" stroke-linecap="round" fill="none"/>
<g stroke="#000" stroke-width="1.0"><line x1="330.7" y1="172.2" x2="330.7" y2="245.0"/><line x1="327.3" y1="172.2" x2="334.1" y2="172.2"/><line x1="327.3" y1="245.0" x2="334.1" y2="245.0"/><line x1="322.7" y1="209.4" x2="338.7" y2="209.4"/></g>
<g stroke="#000" stroke-width="1.0"><line x1="378.3" y1="185.7" x2="378.3" y2="245.0"/><line x1="374.9" y1="185.7" x2="381.7" y2="185.7"/><line x1="374.9" y1="245.0" x2="381.7" y2="245.0"/><line x1="370.3" y1="215.3" x2="386.3" y2="215.3"/></g>
<path d="M330.7 146.0V144H378.3V146.0" fill="none" stroke="#333" stroke-width="0.95"/>
<text x="354.5" y="144.5" class="sig" text-anchor="middle">*</text>
<text x="354.2" y="270.0" class="xt" text-anchor="middle">Age</text>
<text transform="translate(278.1,194.9) rotate(-90) scale(1,0.95)" class="yt" text-anchor="middle">The expression of COMP</text>
<text transform="translate(283.8,194.9) rotate(-90)" class="yt" text-anchor="middle">Log<tspan font-size="4.7" dy="1.7">2</tspan><tspan dy="-1.7"> (TPM+1)</tspan></text>
<text x="270.0" y="143.0" class="L">G</text>
<line x1="434.6" y1="138.5" x2="434.6" y2="250.7" stroke="#1a1a1a" stroke-width="1.0"/>
<line x1="434.1" y1="250.2" x2="538" y2="250.2" stroke="#1a1a1a" stroke-width="1.0"/>
<line x1="432.4" y1="242.5" x2="434.6" y2="242.5" stroke="#222" stroke-width="0.7"/>
<text x="430.0" y="244.5" class="tk" text-anchor="end">0</text>
<line x1="432.4" y1="222.1" x2="434.6" y2="222.1" stroke="#222" stroke-width="0.7"/>
<text x="430.0" y="224.1" class="tk" text-anchor="end">2</text>
<line x1="432.4" y1="201.7" x2="434.6" y2="201.7" stroke="#222" stroke-width="0.7"/>
<text x="430.0" y="203.7" class="tk" text-anchor="end">4</text>
<line x1="432.4" y1="181.3" x2="434.6" y2="181.3" stroke="#222" stroke-width="0.7"/>
<text x="430.0" y="183.3" class="tk" text-anchor="end">6</text>
<line x1="432.4" y1="160.9" x2="434.6" y2="160.9" stroke="#222" stroke-width="0.7"/>
<text x="430.0" y="162.9" class="tk" text-anchor="end">8</text>
<line x1="432.4" y1="140.5" x2="434.6" y2="140.5" stroke="#222" stroke-width="0.7"/>
<text x="430.0" y="142.5" class="tk" text-anchor="end">10</text>
<line x1="462.9" y1="250.2" x2="462.9" y2="252.4" stroke="#222" stroke-width="0.7"/>
<text x="462.9" y="260.0" class="tk" text-anchor="middle">Stage I&amp;Stage II</text>
<path d="M458.8 196.7h0M466.0 240.0h0M467.0 234.3h0M451.1 223.1h0M449.3 187.7h0M452.7 195.2h0M458.6 189.7h0M468.5 192.6h0M457.5 229.5h0M457.8 189.5h0M455.8 191.5h0M452.1 188.2h0M475.7 198.6h0M469.3 209.5h0M468.7 197.6h0M468.3 204.8h0M465.7 228.7h0M452.6 232.8h0M472.2 231.2h0M472.9 223.3h0M466.5 219.1h0M454.5 237.5h0M467.3 222.9h0M474.3 199.1h0M476.5 187.7h0M456.0 193.8h0M467.1 223.5h0M457.4 219.3h0M471.5 191.3h0M466.7 201.8h0M474.1 186.5h0M477.1 231.2h0M476.7 221.1h0M456.6 203.6h0M455.8 216.4h0M471.3 219.9h0M471.7 219.6h0M470.5 231.2h0M467.8 225.3h0M449.5 226.6h0M467.5 194.4h0M455.0 216.4h0M453.7 215.9h0M452.7 231.0h0M468.8 186.6h0M474.2 209.7h0M461.3 204.8h0M464.5 214.5h0M474.8 211.2h0M472.0 230.7h0M469.2 201.5h0M450.6 233.3h0M477.2 216.7h0M468.1 200.8h0M452.8 230.7h0M463.2 204.8h0M463.0 200.7h0M451.9 224.3h0M476.0 207.7h0M468.0 191.0h0M476.2 210.7h0M464.6 205.5h0M457.7 206.6h0M459.8 223.5h0M474.5 226.0h0M452.3 214.8h0M476.8 241.1h0M468.3 217.3h0M450.2 188.8h0M459.6 204.1h0M465.8 231.3h0M449.3 232.7h0M460.4 217.7h0M469.6 233.4h0M467.2 237.2h0M477.2 196.8h0M455.1 197.0h0M470.8 214.5h0M458.7 221.5h0M463.7 226.4h0M463.6 229.0h0M461.0 221.6h0M466.7 234.2h0M469.0 223.8h0M461.6 233.3h0M468.3 207.3h0M459.1 194.5h0M461.3 217.8h0M471.8 212.8h0M461.9 220.2h0M461.4 231.7h0M461.2 217.2h0M462.4 228.5h0M460.0 212.5h0M474.8 215.6h0M474.2 198.3h0M455.8 193.3h0M457.1 204.7h0M471.9 230.3h0M457.5 218.4h0M456.6 209.4h0M460.9 216.8h0M461.2 191.5h0M451.8 208.5h0M467.3 212.6h0M450.5 218.7h0M449.1 197.3h0M455.1 231.4h0M466.3 222.5h0M462.6 193.2h0M473.3 189.4h0M468.3 190.3h0M474.4 231.6h0M462.1 192.7h0M470.9 212.4h0M458.5 222.0h0M457.6 216.4h0M463.7 197.8h0M459.6 235.7h0M454.2 235.0h0M464.8 209.3h0M459.0 194.1h0M463.4 215.3h0M466.5 200.4h0M474.6 224.4h0M448.7 232.1h0M464.7 189.7h0M450.9 197.8h0M470.6 216.7h0M454.1 225.4h0M451.5 200.6h0M472.9 223.5h0M471.7 229.2h0M466.0 207.3h0M474.0 203.6h0M465.6 228.5h0M472.2 233.7h0M460.5 189.0h0M458.0 207.3h0M449.2 189.8h0M473.0 225.9h0M464.0 206.3h0M449.0 234.3h0M453.7 202.3h0M470.1 200.6h0M460.4 236.3h0M458.3 199.7h0M474.9 232.6h0M455.0 228.3h0M462.2 209.0h0M476.7 209.3h0M474.0 223.0h0M470.8 198.1h0M476.5 227.4h0M452.4 211.5h0M448.5 197.8h0M462.9 241.6h0M476.5 230.7h0M476.9 189.9h0M450.3 236.5h0M460.1 235.5h0M450.4 232.4h0M452.0 220.5h0M468.4 237.2h0M467.0 186.5h0M453.5 230.8h0M455.2 188.5h0M453.0 218.5h0M472.7 234.1h0M453.1 206.8h0M451.6 192.1h0M456.6 216.3h0M459.7 211.6h0M477.0 233.2h0M459.3 210.8h0M465.4 239.6h0M453.6 220.4h0M471.3 227.8h0M456.6 237.6h0M455.1 236.8h0M463.0 235.8h0M458.9 239.5h0M471.8 242.2h0M455.0 204.8h0M462.9 230.4h0M457.8 193.6h0M476.0 208.2h0M449.8 210.7h0M450.5 198.5h0M465.3 200.2h0M451.0 192.2h0M458.6 219.8h0M469.8 213.7h0M475.0 220.6h0M452.4 216.1h0M453.2 236.6h0M471.9 186.6h0M468.9 224.1h0M455.2 218.6h0M459.6 209.2h0M457.8 240.9h0M465.4 214.8h0M450.4 208.2h0M473.6 211.1h0M463.6 230.7h0M473.5 223.0h0M451.0 209.0h0M454.9 228.2h0M453.6 237.3h0M453.8 215.6h0M465.8 232.8h0M469.0 236.9h0M461.8 209.5h0M455.9 204.2h0M472.4 193.1h0M471.5 215.8h0M473.7 202.1h0M473.3 232.0h0M458.5 233.3h0M475.5 191.6h0M476.2 241.0h0M473.1 232.9h0M462.4 219.1h0M462.1 208.6h0M450.8 234.1h0M467.7 193.3h0M455.0 235.2h0M453.7 219.7h0M448.8 191.6h0M449.1 236.1h0M452.2 225.7h0M459.7 203.3h0M475.3 205.7h0M459.0 238.3h0M450.5 215.4h0M471.9 218.4h0M475.5 204.6h0M462.6 198.4h0M471.2 228.3h0M465.4 214.4h0M474.2 196.1h0M461.7 198.1h0M461.7 199.1h0M452.0 211.6h0M469.8 195.8h0M456.4 190.6h0M471.1 208.5h0M454.3 222.2h0M450.0 209.2h0M458.7 191.9h0M457.6 211.3h0M450.5 195.5h0M452.7 188.5h0M459.4 239.3h0M472.7 233.8h0M468.4 221.8h0M472.2 204.7h0M454.7 187.6h0M464.0 217.2h0M449.5 191.9h0M448.7 193.5h0M460.0 236.6h0M468.1 212.5h0M459.4 198.9h0M477.1 212.2h0M457.9 207.8h0M462.6 216.6h0M471.2 237.3h0M474.9 219.2h0M469.9 217.9h0M463.2 233.6h0M457.6 230.6h0M459.0 227.7h0M459.0 242.1h0M454.8 222.7h0M468.0 194.0h0M475.5 228.9h0M476.3 228.4h0M458.9 197.8h0M474.8 208.7h0M453.7 237.8h0M473.3 198.7h0M470.5 201.4h0M464.2 200.7h0M474.4 203.2h0M470.6 219.2h0M471.6 203.9h0M449.6 242.5h0M449.4 230.4h0M470.7 190.5h0M456.4 213.9h0M464.9 223.5h0M452.2 218.9h0M465.8 206.8h0M475.7 225.1h0M449.0 211.1h0M460.5 196.8h0M469.9 240.1h0M451.5 234.9h0M454.6 201.0h0M462.1 227.4h0M450.0 193.3h0M467.0 221.8h0M470.3 219.2h0M451.2 226.9h0M467.8 241.8h0M473.0 216.6h0M472.4 189.4h0M462.5 237.5h0M476.9 239.3h0M468.2 188.9h0M464.7 242.5h0M452.5 217.8h0M475.3 200.6h0M471.1 200.7h0M472.8 236.2h0M470.3 229.0h0M466.6 216.1h0M466.9 195.5h0M467.6 199.1h0M463.0 176.8h0M455.9 178.2h0M461.1 172.2h0M458.8 181.9h0M460.2 183.5h0M464.2 182.8h0M455.2 182.6h0M460.6 174.5h0M458.0 175.2h0M466.6 184.9h0M461.1 182.7h0M473.2 164.8h0M472.3 179.3h0M451.5 180.7h0M456.9 180.5h0M458.9 164.6h0M474.4 184.7h0M452.8 171.2h0M466.9 182.6h0M472.7 168.5h0M471.1 181.2h0M469.3 179.8h0M471.6 177.2h0M456.4 179.0h0M476.4 183.5h0M453.0 175.4h0M462.5 176.4h0M473.2 186.0h0M450.6 171.0h0M451.2 184.3h0M455.1 181.3h0M469.1 177.3h0M453.1 175.4h0M470.0 179.2h0M462.0 171.4h0M463.5 146.6h0M473.6 146.6h0M476.8 157.8h0" stroke="#0073C2" stroke-width="3.5" stroke-linecap="round" fill="none"/>
<line x1="510.3" y1="250.2" x2="510.3" y2="252.4" stroke="#222" stroke-width="0.7"/>
<text x="510.3" y="260.0" class="tk" text-anchor="middle">Stage III&amp;Stage IV</text>
<path d="M502.6 209.1h0M508.7 215.5h0M506.1 240.8h0M512.6 176.3h0M507.9 180.3h0M509.8 188.6h0M522.7 188.9h0M512.5 166.1h0M516.0 229.8h0M516.7 220.9h0M506.2 219.3h0M496.4 210.9h0M517.0 212.7h0M512.4 210.4h0M521.2 197.4h0M521.4 185.9h0M511.3 180.3h0M517.1 167.0h0M508.8 172.5h0M523.1 194.3h0M518.1 238.0h0M497.7 193.5h0M502.9 242.0h0M498.2 212.5h0M506.6 165.8h0M519.6 201.9h0M524.1 180.3h0M512.0 215.3h0M503.8 190.6h0M502.0 226.9h0M498.6 206.8h0M520.5 203.5h0M516.2 168.4h0M519.4 230.0h0M521.9 215.2h0M518.9 236.6h0M506.0 174.4h0M500.6 232.9h0M497.0 224.7h0M520.6 200.8h0M522.7 236.0h0M522.3 219.1h0M523.2 215.7h0M502.2 193.9h0M501.9 238.1h0M514.0 217.7h0M507.2 176.4h0M515.7 225.3h0M506.3 180.6h0M516.6 184.6h0M501.8 215.7h0M516.1 219.0h0M516.4 191.0h0M505.8 220.9h0M515.0 211.3h0M505.0 188.5h0M517.9 166.1h0M515.4 195.9h0M512.0 217.3h0M510.7 202.3h0M502.2 238.0h0M520.7 207.4h0M515.9 169.6h0M511.1 177.1h0M523.5 215.0h0M523.5 168.6h0M520.1 217.1h0M522.0 208.7h0M503.0 187.9h0M511.4 237.6h0M499.6 198.9h0M501.4 192.0h0M519.5 193.0h0M504.5 236.9h0M517.9 174.2h0M508.9 231.2h0M511.5 186.4h0M513.2 207.5h0M507.9 229.3h0M506.7 205.6h0M497.8 169.4h0M516.3 240.8h0M510.2 236.3h0M500.6 185.4h0M501.6 174.3h0M515.3 230.5h0M511.9 229.1h0M516.3 221.2h0M507.0 178.9h0M498.8 220.4h0M502.4 235.5h0M523.3 222.4h0M498.9 224.1h0M518.6 235.9h0M503.7 192.3h0M504.5 207.1h0M498.9 199.8h0M505.0 211.2h0M496.8 196.0h0M509.4 239.5h0M498.4 203.6h0M514.9 227.1h0M504.0 194.9h0M514.4 227.7h0M500.0 231.9h0M524.4 237.4h0M508.5 209.4h0M519.4 238.8h0M505.8 241.8h0M504.2 232.8h0M503.4 173.1h0M524.0 203.1h0M498.3 223.4h0M503.1 228.0h0M501.1 181.0h0M507.6 205.4h0M501.4 206.8h0M503.6 168.9h0M523.3 227.8h0M510.4 237.7h0M505.8 170.9h0M509.4 191.4h0M519.1 233.0h0M520.4 178.7h0M516.6 168.8h0M513.7 212.3h0M521.0 176.6h0M496.2 217.2h0M499.8 205.1h0M512.9 210.3h0M510.7 189.6h0M513.6 192.9h0M523.5 202.0h0M505.3 179.7h0M509.7 166.8h0M514.8 190.3h0M506.7 188.7h0M509.7 211.4h0M499.6 179.6h0M522.8 189.0h0M503.1 176.4h0M507.8 199.1h0M499.9 175.5h0M506.8 199.6h0M496.6 195.2h0M522.2 179.3h0M506.9 177.1h0M509.3 238.4h0M503.9 210.3h0M516.0 170.5h0M503.6 223.1h0M520.1 169.9h0M502.9 233.6h0M509.5 181.1h0M518.4 170.6h0M518.9 191.1h0M498.1 188.0h0M499.2 240.6h0M509.3 199.7h0M502.8 197.5h0M509.2 180.1h0M497.1 183.8h0M519.5 180.9h0M498.0 203.9h0M516.7 192.9h0M512.6 179.9h0M505.8 175.9h0M512.2 176.8h0M506.1 233.8h0M497.6 200.2h0M506.4 228.0h0M496.3 209.3h0M522.4 240.1h0M502.0 222.4h0M508.4 230.0h0M524.3 213.3h0M518.5 239.9h0M510.9 205.5h0M512.2 206.6h0M496.1 201.7h0M501.4 231.7h0M504.0 239.7h0M504.0 187.1h0M506.3 177.6h0M505.6 192.9h0M517.7 177.5h0M523.9 167.0h0M520.8 190.4h0M500.2 167.6h0M519.3 241.1h0M502.9 177.7h0M524.1 233.4h0M513.2 195.6h0M505.0 178.6h0M517.2 219.1h0M501.8 200.3h0M500.0 210.9h0M510.6 166.1h0M499.7 214.8h0M503.9 222.6h0M517.9 193.5h0M517.9 172.1h0M500.2 172.0h0M507.8 207.6h0M522.8 182.7h0M498.0 241.5h0M499.5 206.5h0M512.9 207.2h0M511.8 222.7h0M518.9 209.3h0M514.2 177.8h0M513.0 236.7h0M515.5 208.7h0M517.3 195.8h0M501.0 189.3h0M518.2 220.5h0M497.9 237.5h0M518.8 188.3h0M501.2 198.9h0M517.3 220.5h0M502.4 185.7h0M516.3 183.1h0M498.8 224.2h0M508.5 231.2h0M509.7 211.5h0M496.3 234.6h0M521.6 231.2h0M508.7 215.1h0M504.2 241.2h0M521.7 206.2h0M523.7 165.4h0M520.9 177.8h0M518.4 170.8h0M524.3 233.9h0M504.6 198.7h0M503.2 191.4h0M514.3 203.8h0M507.1 194.1h0M516.8 197.8h0M496.5 206.0h0M521.5 222.2h0M511.1 181.4h0M515.8 238.2h0M497.3 172.4h0M521.7 181.5h0M519.3 220.2h0M517.2 197.2h0M517.2 241.1h0M523.6 241.0h0M514.5 176.5h0M507.1 225.3h0M513.6 211.2h0M497.3 202.9h0M498.8 237.8h0M498.9 189.4h0M499.2 203.0h0M521.7 184.8h0M519.2 191.8h0M513.2 191.5h0M510.6 218.1h0M513.3 176.6h0M502.8 207.1h0M509.5 240.0h0M524.2 192.6h0M511.2 173.8h0M501.6 177.2h0M499.4 179.7h0M497.8 226.0h0M501.6 222.7h0M515.2 190.5h0M520.2 174.5h0M507.2 236.7h0M499.4 238.0h0M511.6 183.2h0M517.1 194.0h0M522.4 240.8h0M506.3 187.1h0M511.7 230.2h0M508.2 242.4h0M514.5 180.3h0M516.2 211.1h0M496.7 217.7h0M513.5 235.8h0M510.2 228.8h0M517.2 215.4h0M521.5 225.4h0M514.9 189.9h0M498.1 209.5h0M507.0 187.5h0M508.3 200.4h0M498.7 197.1h0M517.2 210.3h0M523.0 232.3h0M518.9 238.1h0M524.0 242.2h0M503.8 198.4h0M515.1 239.0h0M518.8 211.7h0M516.2 192.1h0M512.3 216.0h0M518.2 241.7h0M507.5 170.6h0M506.1 186.2h0M515.2 240.7h0M500.3 230.7h0M499.5 231.9h0M511.7 212.0h0M515.1 179.1h0M501.4 225.4h0M520.2 199.4h0M506.6 191.2h0M504.5 238.3h0M517.8 175.4h0M514.9 186.5h0M518.7 170.9h0M507.2 231.9h0M504.9 188.1h0M524.0 197.4h0M507.4 200.4h0M513.0 209.9h0M516.4 232.8h0M500.3 237.9h0M514.7 170.7h0M508.5 220.1h0M497.0 182.5h0M523.2 168.3h0M500.8 195.4h0M502.3 168.8h0M496.4 166.2h0M524.0 182.2h0M497.6 189.6h0M510.2 170.0h0M502.3 209.2h0M513.1 200.0h0M508.8 238.5h0M503.0 179.3h0M501.5 209.8h0M512.0 177.3h0M520.4 222.8h0M500.2 165.7h0M497.1 188.0h0M513.6 237.4h0M511.6 180.3h0M523.2 220.4h0M501.7 225.7h0M503.1 237.1h0M505.8 221.1h0M509.7 172.3h0M502.4 205.8h0M523.5 173.0h0M510.1 198.1h0M524.1 193.8h0M510.7 167.9h0M522.2 176.3h0M523.7 188.5h0M507.0 231.5h0M496.4 169.0h0M518.5 235.4h0M515.7 239.3h0M508.5 177.0h0M520.5 199.1h0M521.6 170.3h0M510.6 207.6h0M506.7 189.9h0M505.0 229.8h0M516.7 202.6h0M517.8 178.5h0M523.2 165.5h0M509.9 179.4h0M504.0 226.8h0M500.8 206.3h0M502.4 221.7h0M515.5 192.0h0M506.2 232.3h0M502.5 189.5h0M505.3 223.8h0M520.1 167.9h0M501.1 183.5h0M498.7 196.8h0M501.9 236.8h0M502.6 173.9h0M503.3 177.9h0M507.8 168.0h0M523.6 177.0h0M512.3 165.0h0M510.2 167.7h0M512.3 182.5h0M498.3 208.8h0M510.0 170.6h0M517.0 204.6h0M516.6 233.5h0M500.2 193.4h0M498.2 229.8h0M523.9 170.4h0M515.9 187.2h0M500.3 202.4h0M509.3 181.9h0M505.4 230.1h0M501.7 226.2h0M508.9 192.8h0M519.7 163.3h0M501.0 164.1h0M503.2 161.7h0M521.1 163.4h0M505.3 163.2h0M506.5 162.5h0M507.1 159.2h0M505.7 162.9h0M500.0 164.2h0M521.4 163.8h0M501.1 163.5h0M521.9 164.5h0M518.0 160.2h0M508.1 163.8h0M518.5 164.9h0M514.5 156.8h0" stroke="#EFC000" stroke-width="3.5" stroke-linecap="round" fill="none"/>
<g stroke="#000" stroke-width="1.0"><line x1="462.9" y1="187.4" x2="462.9" y2="245.3"/><line x1="459.5" y1="187.4" x2="466.3" y2="187.4"/><line x1="459.5" y1="245.3" x2="466.3" y2="245.3"/><line x1="454.9" y1="216.7" x2="470.9" y2="216.7"/></g>
<g stroke="#000" stroke-width="1.0"><line x1="510.3" y1="172.1" x2="510.3" y2="241.8"/><line x1="506.9" y1="172.1" x2="513.7" y2="172.1"/><line x1="506.9" y1="241.8" x2="513.7" y2="241.8"/><line x1="502.3" y1="207.2" x2="518.3" y2="207.2"/></g>
<path d="M462.9 145.4V143.4H510.3V145.4" fill="none" stroke="#333" stroke-width="0.95"/>
<text x="486.6" y="143.9" class="sig" text-anchor="middle">***</text>
<text x="487.1" y="270.0" class="xt" text-anchor="middle">Pathologic stage</text>
<text transform="translate(411.1,194.9) rotate(-90) scale(1,0.95)" class="yt" text-anchor="middle">The expression of COMP</text>
<text transform="translate(417.1,194.9) rotate(-90)" class="yt" text-anchor="middle">Log<tspan font-size="4.7" dy="1.7">2</tspan><tspan dy="-1.7"> (TPM+1)</tspan></text>
<text x="406.4" y="143.0" class="L">H</text>
<text x="3.2" y="284.3" class="L" style="font-size:12.5px">I</text>
<text x="78.2" y="282.5" class="bt" text-anchor="middle">205713_s_at</text>
<text x="115.7" y="283.5" class="bt" text-anchor="middle">COMP</text>
<rect x="21.7" y="287.4" width="112.6" height="110.9" fill="none" stroke="#b0b0b0" stroke-width="0.8"/>
<line x1="20.1" y1="394.2" x2="21.7" y2="394.2" stroke="#aaa" stroke-width="0.6"/>
<text transform="translate(17.8,394.2) rotate(-90)" class="rt" text-anchor="middle">0</text>
<line x1="20.1" y1="376.6" x2="21.7" y2="376.6" stroke="#aaa" stroke-width="0.6"/>
<text transform="translate(17.8,376.6) rotate(-90)" class="rt" text-anchor="middle">100</text>
<line x1="20.1" y1="358.9" x2="21.7" y2="358.9" stroke="#aaa" stroke-width="0.6"/>
<text transform="translate(17.8,358.9) rotate(-90)" class="rt" text-anchor="middle">200</text>
<line x1="20.1" y1="341.2" x2="21.7" y2="341.2" stroke="#aaa" stroke-width="0.6"/>
<text transform="translate(17.8,341.2) rotate(-90)" class="rt" text-anchor="middle">300</text>
<line x1="20.1" y1="323.6" x2="21.7" y2="323.6" stroke="#aaa" stroke-width="0.6"/>
<text transform="translate(17.8,323.6) rotate(-90)" class="rt" text-anchor="middle">400</text>
<line x1="20.1" y1="305.9" x2="21.7" y2="305.9" stroke="#aaa" stroke-width="0.6"/>
<text transform="translate(17.8,305.9) rotate(-90)" class="rt" text-anchor="middle">500</text>
<line x1="20.1" y1="288.3" x2="21.7" y2="288.3" stroke="#aaa" stroke-width="0.6"/>
<text transform="translate(17.8,288.3) rotate(-90)" class="rt" text-anchor="middle">600</text>
<line x1="52.1" y1="340.2" x2="52.1" y2="370.2" stroke="#c4c4c4" stroke-width="0.7"/>
<line x1="52.1" y1="391.4" x2="52.1" y2="394.2" stroke="#c4c4c4" stroke-width="0.7"/>
<line x1="41.7" y1="340.2" x2="62.5" y2="340.2" stroke="#a8a8a8" stroke-width="0.8"/>
<line x1="41.7" y1="394.2" x2="62.5" y2="394.2" stroke="#c0c0c0" stroke-width="0.8"/>
<rect x="31.2" y="370.2" width="41.8" height="21.2" fill="#d6d6d6" stroke="#a0a0a0" stroke-width="0.7"/>
<line x1="31.2" y1="384.3" x2="73.0" y2="384.3" stroke="#5a5a5a" stroke-width="1.4"/>
<line x1="104.2" y1="291.8" x2="104.2" y2="347.6" stroke="#c4c4c4" stroke-width="0.7"/>
<line x1="104.2" y1="390.1" x2="104.2" y2="393.8" stroke="#c4c4c4" stroke-width="0.7"/>
<line x1="93.8" y1="291.8" x2="114.7" y2="291.8" stroke="#a8a8a8" stroke-width="0.8"/>
<line x1="93.8" y1="393.8" x2="114.7" y2="393.8" stroke="#c0c0c0" stroke-width="0.8"/>
<rect x="83.4" y="347.6" width="41.7" height="42.5" fill="#d6d6d6" stroke="#a0a0a0" stroke-width="0.7"/>
<line x1="83.4" y1="375.8" x2="125.1" y2="375.8" stroke="#5a5a5a" stroke-width="1.4"/>
<line x1="52.1" y1="398.3" x2="52.1" y2="399.8" stroke="#aaa" stroke-width="0.6"/>
<text x="52.1" y="404.6" class="bl" text-anchor="middle">Non-responder</text>
<line x1="104.3" y1="398.3" x2="104.3" y2="399.8" stroke="#aaa" stroke-width="0.6"/>
<text x="104.3" y="404.6" class="bl" text-anchor="middle">Responder</text>
<text x="78.1" y="411.6" class="bx" text-anchor="middle">state_vector_original</text>
<text transform="translate(11.2,343.2) rotate(-90)" class="bx" text-anchor="middle">Gene expression</text>
<rect x="158.8" y="285.4" width="112.7" height="111.4" fill="none" stroke="#a0a0a0" stroke-width="0.8"/>
<line x1="157.2" y1="392.3" x2="158.8" y2="392.3" stroke="#aaa" stroke-width="0.6"/>
<text transform="translate(154.8,392.3) rotate(-90)" class="rt" text-anchor="middle">0.0</text>
<line x1="267.3" y1="396.8" x2="267.3" y2="398.4" stroke="#aaa" stroke-width="0.6"/>
<text x="267.3" y="402.8" class="rx" text-anchor="middle">0.0</text>
<line x1="157.2" y1="371.8" x2="158.8" y2="371.8" stroke="#aaa" stroke-width="0.6"/>
<text transform="translate(154.8,371.8) rotate(-90)" class="rt" text-anchor="middle">0.2</text>
<line x1="246.5" y1="396.8" x2="246.5" y2="398.4" stroke="#aaa" stroke-width="0.6"/>
<text x="246.5" y="402.8" class="rx" text-anchor="middle">0.2</text>
<line x1="157.2" y1="351.2" x2="158.8" y2="351.2" stroke="#aaa" stroke-width="0.6"/>
<text transform="translate(154.8,351.2) rotate(-90)" class="rt" text-anchor="middle">0.4</text>
<line x1="225.7" y1="396.8" x2="225.7" y2="398.4" stroke="#aaa" stroke-width="0.6"/>
<text x="225.7" y="402.8" class="rx" text-anchor="middle">0.4</text>
<line x1="157.2" y1="330.7" x2="158.8" y2="330.7" stroke="#aaa" stroke-width="0.6"/>
<text transform="translate(154.8,330.7) rotate(-90)" class="rt" text-anchor="middle">0.6</text>
<line x1="204.9" y1="396.8" x2="204.9" y2="398.4" stroke="#aaa" stroke-width="0.6"/>
<text x="204.9" y="402.8" class="rx" text-anchor="middle">0.6</text>
<line x1="157.2" y1="310.1" x2="158.8" y2="310.1" stroke="#aaa" stroke-width="0.6"/>
<text transform="translate(154.8,310.1) rotate(-90)" class="rt" text-anchor="middle">0.8</text>
<line x1="184.1" y1="396.8" x2="184.1" y2="398.4" stroke="#aaa" stroke-width="0.6"/>
<text x="184.1" y="402.8" class="rx" text-anchor="middle">0.8</text>
<line x1="157.2" y1="289.6" x2="158.8" y2="289.6" stroke="#aaa" stroke-width="0.6"/>
<text transform="translate(154.8,289.6) rotate(-90)" class="rt" text-anchor="middle">1.0</text>
<line x1="163.3" y1="396.8" x2="163.3" y2="398.4" stroke="#aaa" stroke-width="0.6"/>
<text x="163.3" y="402.8" class="rx" text-anchor="middle">1.0</text>
<line x1="162.9" y1="392" x2="266.6" y2="289.9" stroke="#bdbdbd" stroke-width="0.6"/>
<polyline points="162.9,392.0 162.9,390.7 163.4,390.7 164.3,390.7 164.3,389.5 164.3,388.3 165.0,388.3 165.0,387.4 165.6,387.4 165.6,386.4 166.6,386.4 166.6,385.2 167.7,385.2 168.6,385.2 168.6,384.0 169.7,384.0 169.7,382.9 170.7,382.9 170.7,381.7 170.7,380.2 171.6,380.2 171.6,378.7 172.7,378.7 172.7,377.4 174.2,377.4 174.2,376.6 174.7,376.6 174.7,375.6 175.5,375.6 176.5,375.6 176.5,374.6 177.1,374.6 177.1,373.5 177.6,373.5 177.6,372.1 177.8,372.1 177.8,371.1 177.8,369.7 178.6,369.7 178.8,369.7 178.8,368.7 178.8,367.6 179.1,367.6 179.7,367.6 179.7,366.5 179.7,365.1 180.1,365.1 180.1,364.2 180.2,364.2 180.5,364.2 180.5,363.3 180.5,363.3 180.5,361.9 180.7,361.9 180.7,361.2 180.7,359.9 180.9,359.9 181.5,359.9 181.5,359.0 181.6,359.0 181.6,358.0 181.6,356.7 181.9,356.7 181.9,355.7 182.1,355.7 182.2,355.7 182.2,354.2 182.2,353.2 182.1,353.2 182.6,353.2 182.6,351.9 182.6,350.8 182.8,350.8 182.8,349.9 183.0,349.9 183.3,349.9 183.3,348.8 183.3,347.7 183.7,347.7 183.7,346.8 185.7,346.8 185.7,346.6 186.9,346.6 188.0,346.6 188.0,346.2 188.9,346.2 188.9,345.3 188.9,344.6 190.0,344.6 191.0,344.6 191.0,343.8 192.2,343.8 192.2,343.3 193.3,343.3 193.3,342.3 194.8,342.3 194.8,341.4 196.1,341.4 196.1,340.5 196.8,340.5 196.8,340.0 198.0,340.0 198.0,339.8 198.0,339.1 198.9,339.1 198.9,338.3 200.2,338.3 200.2,337.8 201.2,337.8 201.2,337.6 201.8,337.6 203.0,337.6 203.0,336.8 204.0,336.8 204.0,336.7 205.1,336.7 205.1,335.8 206.1,335.8 206.1,335.2 206.1,334.6 207.1,334.6 208.0,334.6 208.0,333.8 208.0,333.4 209.2,333.4 209.2,332.7 209.9,332.7 209.9,332.2 211.2,332.2 211.2,331.7 212.4,331.7 213.4,331.7 213.4,331.0 213.4,330.3 214.7,330.3 214.7,329.3 215.8,329.3 215.8,328.9 217.2,328.9 217.2,328.1 217.9,328.1 217.9,327.7 218.8,327.7 220.2,327.7 220.2,326.8 221.2,326.8 221.2,326.3 221.9,326.3 221.9,325.8 221.9,325.2 223.0,325.2 223.8,325.2 223.8,324.6 225.0,324.6 225.0,323.8 225.0,323.0 226.2,323.0 226.2,322.6 226.8,322.6 226.8,321.6 228.2,321.6 229.3,321.6 229.3,321.0 230.3,321.0 230.3,320.5 231.3,320.5 231.3,319.8 231.3,318.9 232.5,318.9 233.7,318.9 233.7,318.0 235.2,318.0 235.2,317.1 235.2,316.9 235.8,316.9 237.0,316.9 237.0,315.9 237.0,315.4 238.3,315.4 239.2,315.4 239.2,315.0 239.2,314.1 240.7,314.1 240.7,313.2 241.8,313.2 241.8,312.3 242.8,312.3 242.8,311.3 244.3,311.3 245.1,311.3 245.1,310.7 245.1,310.4 246.4,310.4 246.4,309.4 247.3,309.4 248.7,309.4 248.7,308.5 248.7,308.1 250.0,308.1 250.0,307.6 251.1,307.6 252.1,307.6 252.1,306.6 252.1,305.8 253.4,305.8 254.4,305.8 254.4,305.2 255.5,305.2 255.5,304.3 257.0,304.3 257.0,303.7 257.0,302.2 258.5,302.2 259.5,302.2 259.5,301.4 259.5,300.3 260.2,300.3 261.0,300.3 261.0,298.9 261.0,297.8 261.6,297.8 262.2,297.8 262.2,296.7 263.0,296.7 263.0,295.4 263.0,294.4 263.6,294.4 263.6,293.5 264.4,293.5 264.9,293.5 264.9,291.9 264.9,291.0 265.6,291.0 266.4,289.9" fill="none" stroke="#1a1a1a" stroke-width="0.7" stroke-linejoin="round"/>
<text x="242.9" y="368.6" class="lgb" text-anchor="end">AUC:</text>
<text x="257" y="368.6" class="lg" text-anchor="middle">0.585</text>
<text x="242.9" y="373.7" class="lgb" text-anchor="end">p-value:</text>
<text x="257" y="373.7" class="lg" text-anchor="middle">1.8e-03</text>
<text x="242.9" y="378.8" class="lgb" text-anchor="end">strongest cutoff:</text>
<text x="257" y="378.8" class="lg" text-anchor="middle">109</text>
<text x="242.9" y="383.9" class="lg" text-anchor="end">TPR:</text>
<text x="257" y="383.9" class="lg" text-anchor="middle">0.5</text>
<text x="242.9" y="389.0" class="lg" text-anchor="end">TNR:</text>
<text x="257" y="389.0" class="lg" text-anchor="middle">0.68</text>
<text transform="translate(147.9,341) rotate(-90)" class="bx" text-anchor="middle">True positive rate</text>
<text x="215" y="410.3" class="bx" text-anchor="middle">False positive rate</text>
<text x="285.3" y="284.3" class="L" style="font-size:12.5px">J</text>
<text x="351.4" y="281.2" class="bt" text-anchor="middle">COMP</text>
<rect x="295.0" y="286.4" width="112.9" height="112.0" fill="none" stroke="#b0b0b0" stroke-width="0.8"/>
<line x1="293.4" y1="394.4" x2="295.0" y2="394.4" stroke="#aaa" stroke-width="0.6"/>
<text transform="translate(291.6,394.4) rotate(-90)" class="rt" text-anchor="middle">0</text>
<line x1="293.4" y1="379.0" x2="295.0" y2="379.0" stroke="#aaa" stroke-width="0.6"/>
<text transform="translate(291.6,379.0) rotate(-90)" class="rt" text-anchor="middle">500</text>
<line x1="293.4" y1="363.7" x2="295.0" y2="363.7" stroke="#aaa" stroke-width="0.6"/>
<text transform="translate(291.6,363.7) rotate(-90)" class="rt" text-anchor="middle">1000</text>
<line x1="293.4" y1="348.3" x2="295.0" y2="348.3" stroke="#aaa" stroke-width="0.6"/>
<line x1="293.4" y1="333.0" x2="295.0" y2="333.0" stroke="#aaa" stroke-width="0.6"/>
<text transform="translate(291.6,333.0) rotate(-90)" class="rt" text-anchor="middle">2000</text>
<line x1="293.4" y1="317.6" x2="295.0" y2="317.6" stroke="#aaa" stroke-width="0.6"/>
<line x1="293.4" y1="302.3" x2="295.0" y2="302.3" stroke="#aaa" stroke-width="0.6"/>
<text transform="translate(291.6,302.3) rotate(-90)" class="rt" text-anchor="middle">3000</text>
<line x1="325.4" y1="290.9" x2="325.4" y2="351.4" stroke="#c4c4c4" stroke-width="0.7"/>
<line x1="325.4" y1="392.6" x2="325.4" y2="393.8" stroke="#c4c4c4" stroke-width="0.7"/>
<line x1="314.9" y1="290.9" x2="335.8" y2="290.9" stroke="#a8a8a8" stroke-width="0.8"/>
<line x1="314.9" y1="393.8" x2="335.8" y2="393.8" stroke="#c0c0c0" stroke-width="0.8"/>
<rect x="304.4" y="351.4" width="41.9" height="41.1" fill="#d6d6d6" stroke="#a0a0a0" stroke-width="0.7"/>
<line x1="304.4" y1="386.0" x2="346.3" y2="386.0" stroke="#5a5a5a" stroke-width="1.4"/>
<line x1="377.8" y1="292.0" x2="377.8" y2="350.3" stroke="#c4c4c4" stroke-width="0.7"/>
<line x1="377.8" y1="391.6" x2="377.8" y2="394.1" stroke="#c4c4c4" stroke-width="0.7"/>
<line x1="367.5" y1="292.0" x2="388.1" y2="292.0" stroke="#a8a8a8" stroke-width="0.8"/>
<line x1="367.5" y1="394.1" x2="388.1" y2="394.1" stroke="#c0c0c0" stroke-width="0.8"/>
<rect x="357.1" y="350.3" width="41.4" height="41.3" fill="#d6d6d6" stroke="#a0a0a0" stroke-width="0.7"/>
<line x1="357.1" y1="382.8" x2="398.5" y2="382.8" stroke="#5a5a5a" stroke-width="1.4"/>
<line x1="325.3" y1="398.4" x2="325.3" y2="399.9" stroke="#aaa" stroke-width="0.6"/>
<text x="325.3" y="404.8" class="bl" text-anchor="middle">Non-responder</text>
<line x1="377.8" y1="398.4" x2="377.8" y2="399.9" stroke="#aaa" stroke-width="0.6"/>
<text x="377.8" y="404.8" class="bl" text-anchor="middle">Responder</text>
<text transform="translate(284.3,342.2) rotate(-90)" class="bx" text-anchor="middle">Gene expression</text>
<rect x="429.4" y="286.4" width="113.1" height="112.4" fill="none" stroke="#a0a0a0" stroke-width="0.8"/>
<line x1="427.8" y1="393.6" x2="429.4" y2="393.6" stroke="#aaa" stroke-width="0.6"/>
<text transform="translate(425.6,393.6) rotate(-90)" class="rt" text-anchor="middle">0.0</text>
<line x1="538.8" y1="398.8" x2="538.8" y2="400.4" stroke="#aaa" stroke-width="0.6"/>
<text x="538.8" y="404.6" class="rx" text-anchor="middle">0.0</text>
<line x1="427.8" y1="373.0" x2="429.4" y2="373.0" stroke="#aaa" stroke-width="0.6"/>
<text transform="translate(425.6,373.0) rotate(-90)" class="rt" text-anchor="middle">0.2</text>
<line x1="517.8" y1="398.8" x2="517.8" y2="400.4" stroke="#aaa" stroke-width="0.6"/>
<text x="517.8" y="404.6" class="rx" text-anchor="middle">0.2</text>
<line x1="427.8" y1="352.3" x2="429.4" y2="352.3" stroke="#aaa" stroke-width="0.6"/>
<text transform="translate(425.6,352.3) rotate(-90)" class="rt" text-anchor="middle">0.4</text>
<line x1="496.9" y1="398.8" x2="496.9" y2="400.4" stroke="#aaa" stroke-width="0.6"/>
<text x="496.9" y="404.6" class="rx" text-anchor="middle">0.4</text>
<line x1="427.8" y1="331.7" x2="429.4" y2="331.7" stroke="#aaa" stroke-width="0.6"/>
<text transform="translate(425.6,331.7) rotate(-90)" class="rt" text-anchor="middle">0.6</text>
<line x1="475.9" y1="398.8" x2="475.9" y2="400.4" stroke="#aaa" stroke-width="0.6"/>
<text x="475.9" y="404.6" class="rx" text-anchor="middle">0.6</text>
<line x1="427.8" y1="311.0" x2="429.4" y2="311.0" stroke="#aaa" stroke-width="0.6"/>
<text transform="translate(425.6,311.0) rotate(-90)" class="rt" text-anchor="middle">0.8</text>
<line x1="455.0" y1="398.8" x2="455.0" y2="400.4" stroke="#aaa" stroke-width="0.6"/>
<text x="455.0" y="404.6" class="rx" text-anchor="middle">0.8</text>
<line x1="427.8" y1="290.4" x2="429.4" y2="290.4" stroke="#aaa" stroke-width="0.6"/>
<text transform="translate(425.6,290.4) rotate(-90)" class="rt" text-anchor="middle">1.0</text>
<line x1="434.0" y1="398.8" x2="434.0" y2="400.4" stroke="#aaa" stroke-width="0.6"/>
<text x="434.0" y="404.6" class="rx" text-anchor="middle">1.0</text>
<line x1="433.5" y1="392.9" x2="538.7" y2="290.5" stroke="#bdbdbd" stroke-width="0.6"/>
<polyline points="433.5,392.9 433.5,392.6 434.8,392.6 435.7,392.6 435.7,391.7 437.0,391.7 437.0,391.3 438.3,391.3 438.3,391.1 438.3,390.9 439.2,390.9 440.5,390.9 440.5,390.1 440.5,389.4 441.6,389.4 442.7,389.4 442.7,389.3 444.1,389.3 444.1,388.7 445.2,388.7 445.2,387.9 445.2,386.7 446.2,386.7 447.1,386.7 447.1,386.0 448.2,386.0 448.2,384.8 448.2,383.7 449.1,383.7 449.1,382.4 449.9,382.4 450.9,382.4 450.9,381.4 451.5,381.4 451.5,380.6 451.5,379.2 452.8,379.2 452.8,378.3 453.5,378.3 453.5,376.9 454.4,376.9 455.6,376.9 455.6,375.5 455.6,374.1 456.4,374.1 456.4,373.0 457.3,373.0 457.3,371.8 457.9,371.8 457.9,370.9 459.0,370.9 459.0,369.9 460.3,369.9 460.3,368.3 461.2,368.3 461.2,367.0 462.4,367.0 463.5,367.0 463.5,365.8 464.3,365.8 464.3,364.2 464.3,363.6 465.2,363.6 465.8,363.6 465.8,362.5 466.9,362.5 466.9,360.9 466.9,360.2 467.3,360.2 468.2,360.2 468.2,359.0 469.2,359.0 469.2,357.9 470.2,357.9 470.2,356.7 470.6,356.7 470.6,355.5 470.6,354.9 471.6,354.9 471.6,353.6 472.4,353.6 472.4,352.5 473.3,352.5 473.3,351.6 473.7,351.6 473.7,350.6 474.5,350.6 474.9,350.6 474.9,349.3 475.7,349.3 475.7,348.4 475.7,347.6 476.4,347.6 477.1,347.6 477.1,346.4 477.1,345.5 478.0,345.5 478.5,345.5 478.5,344.4 478.5,343.1 479.3,343.1 479.3,342.2 479.8,342.2 480.4,342.2 480.4,341.0 481.0,341.0 481.0,339.9 481.0,338.6 482.1,338.6 482.1,337.7 482.6,337.7 483.3,337.7 483.3,336.6 483.3,335.4 484.1,335.4 484.1,334.2 484.8,334.2 485.5,334.2 485.5,333.5 486.1,333.5 486.1,332.1 486.1,331.0 486.6,331.0 487.3,331.0 487.3,330.1 487.3,328.7 488.1,328.7 489.2,328.7 489.2,327.7 489.2,326.5 489.9,326.5 490.7,326.5 490.7,325.5 491.7,325.5 491.7,324.5 493.1,324.5 493.1,323.6 493.7,323.6 493.7,322.6 493.7,322.1 495.0,322.1 495.0,320.9 496.2,320.9 496.2,320.0 497.2,320.0 497.9,320.0 497.9,319.4 499.1,319.4 499.1,318.3 500.1,318.3 500.1,317.8 500.9,317.8 500.9,317.1 502.2,317.1 502.2,316.2 502.9,316.2 502.9,315.3 502.9,314.5 503.9,314.5 505.1,314.5 505.1,313.7 506.4,313.7 506.4,312.9 507.4,312.9 507.4,312.1 508.6,312.1 508.6,310.8 509.9,310.8 509.9,309.9 509.9,308.4 511.0,308.4 511.0,307.3 512.3,307.3 512.3,306.6 513.0,306.6 514.4,306.6 514.4,305.5 514.4,304.6 515.4,304.6 516.6,304.6 516.6,304.1 516.6,303.5 517.2,303.5 517.2,303.1 518.5,303.1 519.5,303.1 519.5,302.7 520.4,302.7 520.4,302.3 520.4,301.5 521.8,301.5 521.8,301.2 522.6,301.2 523.4,301.2 523.4,300.8 524.8,300.8 524.8,300.4 524.8,299.4 526.3,299.4 527.7,299.4 527.7,299.1 528.7,299.1 528.7,298.2 529.4,298.2 529.4,297.5 530.6,297.5 530.6,297.3 532.0,297.3 532.0,296.3 532.0,295.7 532.8,295.7 534.0,295.7 534.0,294.7 535.4,294.7 535.4,293.5 535.4,292.4 536.8,292.4 536.8,291.4 537.7,291.4 538.7,290.5" fill="none" stroke="#1a1a1a" stroke-width="0.7" stroke-linejoin="round"/>
<text x="512.9" y="369.7" class="lgb" text-anchor="end">AUC:</text>
<text x="527.7" y="369.7" class="lg" text-anchor="middle">0.533</text>
<text x="512.9" y="374.8" class="lgb" text-anchor="end">p-value:</text>
<text x="527.7" y="374.8" class="lg" text-anchor="middle">4.3e-02</text>
<text x="512.9" y="379.9" class="lgb" text-anchor="end">strongest cutoff:</text>
<text x="527.7" y="379.9" class="lg" text-anchor="middle">201</text>
<text x="512.9" y="385.0" class="lg" text-anchor="end">TPR:</text>
<text x="527.7" y="385.0" class="lg" text-anchor="middle">0.66</text>
<text x="512.9" y="390.1" class="lg" text-anchor="end">TNR:</text>
<text x="527.7" y="390.1" class="lg" text-anchor="middle">0.46</text>
<text transform="translate(418.9,341.5) rotate(-90)" class="bx" text-anchor="middle">True positive rate</text>
<text x="486" y="411.8" class="bx" text-anchor="middle">False positive rate</text>
</svg></body></html>
